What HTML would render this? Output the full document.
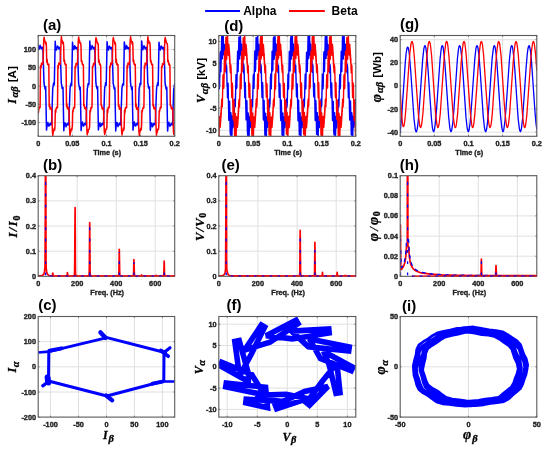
<!DOCTYPE html>
<html><head><meta charset="utf-8"><title>Figure</title>
<style>html,body{margin:0;padding:0;background:#fff;width:550px;height:451px;overflow:hidden}svg{display:block}</style>
</head><body>
<svg width="550" height="451" viewBox="0 0 550 451"><defs>
<clipPath id="cA"><rect x="38.2" y="35.5" width="136.5" height="100.8"/></clipPath>
<clipPath id="cD"><rect x="218.8" y="35.5" width="137.0" height="100.8"/></clipPath>
<clipPath id="cG"><rect x="400.2" y="35.5" width="136.6" height="100.8"/></clipPath>
<clipPath id="cB"><rect x="38.2" y="175.7" width="136.5" height="100.6"/></clipPath>
<clipPath id="cE"><rect x="218.8" y="175.7" width="137.0" height="100.6"/></clipPath>
<clipPath id="cH"><rect x="400.2" y="175.7" width="136.6" height="100.6"/></clipPath>
<clipPath id="cC"><rect x="38.2" y="316.5" width="136.5" height="100.6"/></clipPath>
<clipPath id="cF"><rect x="218.8" y="316.5" width="137.0" height="100.6"/></clipPath>
<clipPath id="cI"><rect x="400.2" y="316.5" width="136.6" height="100.6"/></clipPath>
</defs>
<line x1="72.3" y1="35.5" x2="72.3" y2="136.3" stroke="#e0e0e0" stroke-width="1"/>
<line x1="106.5" y1="35.5" x2="106.5" y2="136.3" stroke="#e0e0e0" stroke-width="1"/>
<line x1="140.6" y1="35.5" x2="140.6" y2="136.3" stroke="#e0e0e0" stroke-width="1"/>
<line x1="38.2" y1="122.6" x2="174.7" y2="122.6" stroke="#e0e0e0" stroke-width="1"/>
<line x1="38.2" y1="104.3" x2="174.7" y2="104.3" stroke="#e0e0e0" stroke-width="1"/>
<line x1="38.2" y1="86.1" x2="174.7" y2="86.1" stroke="#e0e0e0" stroke-width="1"/>
<line x1="38.2" y1="67.8" x2="174.7" y2="67.8" stroke="#e0e0e0" stroke-width="1"/>
<line x1="38.2" y1="49.6" x2="174.7" y2="49.6" stroke="#e0e0e0" stroke-width="1"/>
<line x1="253.1" y1="35.5" x2="253.1" y2="136.3" stroke="#e0e0e0" stroke-width="1"/>
<line x1="287.3" y1="35.5" x2="287.3" y2="136.3" stroke="#e0e0e0" stroke-width="1"/>
<line x1="321.6" y1="35.5" x2="321.6" y2="136.3" stroke="#e0e0e0" stroke-width="1"/>
<line x1="218.8" y1="130.3" x2="355.8" y2="130.3" stroke="#e0e0e0" stroke-width="1"/>
<line x1="218.8" y1="108.1" x2="355.8" y2="108.1" stroke="#e0e0e0" stroke-width="1"/>
<line x1="218.8" y1="85.9" x2="355.8" y2="85.9" stroke="#e0e0e0" stroke-width="1"/>
<line x1="218.8" y1="63.7" x2="355.8" y2="63.7" stroke="#e0e0e0" stroke-width="1"/>
<line x1="218.8" y1="41.5" x2="355.8" y2="41.5" stroke="#e0e0e0" stroke-width="1"/>
<line x1="434.3" y1="35.5" x2="434.3" y2="136.3" stroke="#e0e0e0" stroke-width="1"/>
<line x1="468.5" y1="35.5" x2="468.5" y2="136.3" stroke="#e0e0e0" stroke-width="1"/>
<line x1="502.6" y1="35.5" x2="502.6" y2="136.3" stroke="#e0e0e0" stroke-width="1"/>
<line x1="400.2" y1="132.1" x2="536.8" y2="132.1" stroke="#e0e0e0" stroke-width="1"/>
<line x1="400.2" y1="109.0" x2="536.8" y2="109.0" stroke="#e0e0e0" stroke-width="1"/>
<line x1="400.2" y1="85.9" x2="536.8" y2="85.9" stroke="#e0e0e0" stroke-width="1"/>
<line x1="400.2" y1="62.8" x2="536.8" y2="62.8" stroke="#e0e0e0" stroke-width="1"/>
<line x1="400.2" y1="39.7" x2="536.8" y2="39.7" stroke="#e0e0e0" stroke-width="1"/>
<line x1="77.2" y1="175.7" x2="77.2" y2="276.3" stroke="#e0e0e0" stroke-width="1"/>
<line x1="116.2" y1="175.7" x2="116.2" y2="276.3" stroke="#e0e0e0" stroke-width="1"/>
<line x1="155.2" y1="175.7" x2="155.2" y2="276.3" stroke="#e0e0e0" stroke-width="1"/>
<line x1="38.2" y1="251.2" x2="174.7" y2="251.2" stroke="#e0e0e0" stroke-width="1"/>
<line x1="38.2" y1="226.0" x2="174.7" y2="226.0" stroke="#e0e0e0" stroke-width="1"/>
<line x1="38.2" y1="200.9" x2="174.7" y2="200.9" stroke="#e0e0e0" stroke-width="1"/>
<line x1="257.9" y1="175.7" x2="257.9" y2="276.3" stroke="#e0e0e0" stroke-width="1"/>
<line x1="297.1" y1="175.7" x2="297.1" y2="276.3" stroke="#e0e0e0" stroke-width="1"/>
<line x1="336.2" y1="175.7" x2="336.2" y2="276.3" stroke="#e0e0e0" stroke-width="1"/>
<line x1="218.8" y1="251.2" x2="355.8" y2="251.2" stroke="#e0e0e0" stroke-width="1"/>
<line x1="218.8" y1="226.0" x2="355.8" y2="226.0" stroke="#e0e0e0" stroke-width="1"/>
<line x1="218.8" y1="200.9" x2="355.8" y2="200.9" stroke="#e0e0e0" stroke-width="1"/>
<line x1="439.2" y1="175.7" x2="439.2" y2="276.3" stroke="#e0e0e0" stroke-width="1"/>
<line x1="478.3" y1="175.7" x2="478.3" y2="276.3" stroke="#e0e0e0" stroke-width="1"/>
<line x1="517.3" y1="175.7" x2="517.3" y2="276.3" stroke="#e0e0e0" stroke-width="1"/>
<line x1="400.2" y1="256.2" x2="536.8" y2="256.2" stroke="#e0e0e0" stroke-width="1"/>
<line x1="400.2" y1="236.1" x2="536.8" y2="236.1" stroke="#e0e0e0" stroke-width="1"/>
<line x1="400.2" y1="215.9" x2="536.8" y2="215.9" stroke="#e0e0e0" stroke-width="1"/>
<line x1="400.2" y1="195.8" x2="536.8" y2="195.8" stroke="#e0e0e0" stroke-width="1"/>
<line x1="50.5" y1="316.5" x2="50.5" y2="417.1" stroke="#e0e0e0" stroke-width="1"/>
<line x1="78.5" y1="316.5" x2="78.5" y2="417.1" stroke="#e0e0e0" stroke-width="1"/>
<line x1="106.5" y1="316.5" x2="106.5" y2="417.1" stroke="#e0e0e0" stroke-width="1"/>
<line x1="134.4" y1="316.5" x2="134.4" y2="417.1" stroke="#e0e0e0" stroke-width="1"/>
<line x1="162.4" y1="316.5" x2="162.4" y2="417.1" stroke="#e0e0e0" stroke-width="1"/>
<line x1="38.2" y1="392.0" x2="174.7" y2="392.0" stroke="#e0e0e0" stroke-width="1"/>
<line x1="38.2" y1="366.8" x2="174.7" y2="366.8" stroke="#e0e0e0" stroke-width="1"/>
<line x1="38.2" y1="341.6" x2="174.7" y2="341.6" stroke="#e0e0e0" stroke-width="1"/>
<line x1="227.2" y1="316.5" x2="227.2" y2="417.1" stroke="#e0e0e0" stroke-width="1"/>
<line x1="257.3" y1="316.5" x2="257.3" y2="417.1" stroke="#e0e0e0" stroke-width="1"/>
<line x1="287.3" y1="316.5" x2="287.3" y2="417.1" stroke="#e0e0e0" stroke-width="1"/>
<line x1="317.3" y1="316.5" x2="317.3" y2="417.1" stroke="#e0e0e0" stroke-width="1"/>
<line x1="347.4" y1="316.5" x2="347.4" y2="417.1" stroke="#e0e0e0" stroke-width="1"/>
<line x1="218.8" y1="409.4" x2="355.8" y2="409.4" stroke="#e0e0e0" stroke-width="1"/>
<line x1="218.8" y1="388.1" x2="355.8" y2="388.1" stroke="#e0e0e0" stroke-width="1"/>
<line x1="218.8" y1="366.8" x2="355.8" y2="366.8" stroke="#e0e0e0" stroke-width="1"/>
<line x1="218.8" y1="345.5" x2="355.8" y2="345.5" stroke="#e0e0e0" stroke-width="1"/>
<line x1="218.8" y1="324.2" x2="355.8" y2="324.2" stroke="#e0e0e0" stroke-width="1"/>
<line x1="468.5" y1="316.5" x2="468.5" y2="417.1" stroke="#e0e0e0" stroke-width="1"/>
<line x1="400.2" y1="366.8" x2="536.8" y2="366.8" stroke="#e0e0e0" stroke-width="1"/>
<g clip-path="url(#cA)">
<path d="M38.2,45.3l.7,3.9 .7-.9 .5-3 .4,2 .3-.5 .1,.1 .4,1.8 .4-.9 .4,.9 .4-1.4 .4,1 1.1,34.4 .5,3.9 .4,.7 .2,1.8 .2-.1 .4-2.3 0,.4 .8,43 .7-6 .1-.5 .3,.3 .3-1.4 .7,3.6 .3-.8 .4,.5 .4-1.9 .4,.5 .3-1.1 .4,1.4 .5-.9 .3,.9 1.1-35.8 1-6.2 .4,2 .1,.2 .1-.2 .9-43.5 .5,6.5 .1,.1 .2-.2 .1,.1 .4,2.3 .4-2.6 .3-.3 .4-1.2 .5,1.9 .1,0 .3-.4 .3,1.6 .5-1.4 .4,.9 .3-1.3 .2,.1 1.1,36.4 .4,1 .4,3.6 .3,.2 .2-.4 .2,.2 .2-.8 .8,43.3 .3-4 .8-4 .7,1.3 .4,2.7 .5-2 .3,.5 .1-.1 .4-1.9 .4,1.1 .4-.9 .4,1.4 .3-1 1.2-34.6 .4-3.8 .4-.7 .2-1.5 .2-.2 .1,.2 .3,2.3 .9-43.3 .7,6 .1,.4 .3-.3 .3,1.1 .2-.4 .5-3.3 .3,1.1 .4-.4 .4,1.9 .4-.5 .4,.9 .4-1.4 .3,1 .3-.8 1.1,35.4 .3,2.2 .4,1.1 .4,3.3 .4-2.3 .1-.1 .1,.4 .8,43 .6-6.4 .3,.3 .1-.2 .4-2.2 .4,2.9 .7,1.2 .4-1.9 .2-.1 .3,.5 .3-1.5 .4,1.4 .5-.9 .3,1.2 .1,0 1.2-36.6 .4-1.1 .4-3.5 .2-.2 .2,.7 .3-.2 .1,.4 .1-.5 .8-42.8 .3,4.7 .8,3.6 .2-.2 .2-1 .3-.3 .4-2.4 .5,2 .3-.5 .1,.1 .4,1.8 .4-1.2 .4,.9 .4-1.4 .3,1.2 1.1,34.5 .6,4.1 .3,.6 .2,1.1 .2,.2 .1-.2 .3-2 .8,43.3 .9-6.6 .3,.2 .2-.7 .2,.2 .6,3.5 .3-1.5 .3,.5 .1-.1 .4-1.8 .4,.6 .4-.9 .4,1.4 .3-.9 .2,.4 .1-.3 1.1-34.5 .3-2.8 .4-1.2 .3-2.9 .5,2.4 .1,.1 .9-43.4 .6,6.3 0,.1 .3-.3 .1,.1 .4,2.2 .4-3.1 .3-.5 .2,.1 .2-.5 .5,1.9 .4-.5 .3,1.4 .4-1.3 .5,.9 .4-1.3 1.1,36.5 .5,1.6 .4,3.4 .2,.2 .2-1.1 .3,.2 .1-.2 .8,43.2 .5-5.3 .1-.7 .2-.2 .4-2.2 .2,.1 .2,1.5 .4,.4 .3,2 .5-2 .4,.4 .4-1.9 .4,1.4 .3-.9 .5,1.3 .2-.8 1.2-35.2 .6-4 .5-1.3 .3-.1 .3,1.5 .7-43.1 1,7 .3-.2 .2,.3 .2-.1 .5-3.4 .4,1.6 .3-.5 .1,.1 .4,1.9 .4-.8 .4,.9 .4-1.3 .3,.9 .2-.2 1.1,34.6 .4,3.2 .4,1 .3,2.6 .6-2.6 .8,43.4 .6-6 .1-.4 .3,.3 .1-.1 .3-2 .6,3.6 .2,0 .2-.2 .3,.5 .4-1.9 .3,.5 .5-1.3 .4,1.4 .4-1 .4,1.1 1-36.1 .2-1.2 .4-1.1 .4-3.2 .1-.1 .3,1.4 .3-.1 .9-43.4 .5,5.9 .1,.6 .1-.2 .1,.2 .4,2.2 .4-1.8 .3-.4 .4-1.8 .5,1.9 .3-.4 .1,.1 .4,1.7 .4-1.4 .4,1 .4-1.4 .2,.6 1.1,35.7 .3,.7 .4,3.6 .4,.6 .3,.2 .3-1.5 .8,43.2 .3-2.7 .7-4.5 .3,.3 .1-.2 .3,.4 .5,3.2 .4-1.8 .4,.4 .4-1.9 .4,.9 .4-.9 .4,1.3 .3-.9 .1,0 1.2-34.4 .4-3.5 .4-.8 .3-2.4 .6,2.5 .8-43.1 .6,5.8 .1,.4 .4-.2 .3,1.7 .6-3.6 .2,0 .1,.5 .3-.6 .5,1.9 .3-.4 .4,1.2 .5-1.4 .4,.9 .3-1.1 1.1,36.1 .2,1.5 .4,1 .4,3.3 .4-1.7 .3,.2 0,.5 .8,42.9 .6-6.5 0-.1 .2,.2 .1-.1 .4-2.3 .4,2.2 .3,.4 .4,1.5 .5-1.9 .3,.4 .1-.1 .3-1.6 .5,1.3 .4-.9 .3,1.4 .2-.4 1.1-35.9 .4-1 .4-3.3 .2-.4" fill="none" stroke="#0000ff" stroke-width="1.5" stroke-linejoin="round" stroke-linecap="round" />
<path d="M38.2,110.8l.2,2.1 .6-5.5 .3,.9 .5-1.4 .3,.7 .4-41.6 .1-.2 .1,.4 .3,1.6 .6-4.8 .5,1.4 .4-.9 .3,.6 .2-.1 .7-23 .4-3.8 .6,3.8 .2,.4 .2-.1 .1,.2 .5,2.7 .3-1.9 .2,1.2 .2,2.5 .3,16.2 .4-2.9 .5,5.2 .3-.7 .5,1.4 .4-.9 .4,42.4 .4-2.7 .5,5.2 .5-1.4 .4,.9 .4-.8 .2,.2 .8,23 .4,4.3 .5-3.9 .1-.4 .3,.1 .1-.2 .5-2.8 .4,1.8 .3-4.2 .3-15.5 .4,2.2 .5-4.5 .3,.4 .4-1.4 .4,.9 .2-.2 .4-42.2 .3,2.9 .6-5.5 .4,1.4 .4-.9 .4,1.1 .2-.8 .9-22.8 .3-4.3 .4,3.7 .2,.4 .2,0 .1,.2 .5,2.7 .2,.1 .3-1.4 .4,4.4 .3,14.9 .4-1.6 .5,3.8 .1-.1 .1,.1 .4,1.3 .4-.9 .2,.4 .4,41.8 .4-2.6 .5,5.2 .3-1.1 .5,.9 .4-1.4 .3,1.5 .8,22.8 .3,3.7 .4-3.2 .1-.4 .3,0 .1-.2 .4-2.7 .3-.1 .3,.9 .5-4.3 .3-14.6 .3,1 .5-3.1 .4-1.4 .2-.1 .4,.8 .2-.9 .4-40.5 .1-.4 .4,1.8 .4-4.5 .3,.7 .4-.9 .5,1.4 .3-1.8 .8-22.3 .4-3.6 .3,2.9 .4,.3 .5,2.8 .4,.1 .1-.3 .2,.1 .4,3 .3,15.5 .4-1 .8,4.4 .2,.1 .3-.8 .4,1.3 .4,40.4 .4-1.2 .5,3.7 .2-.2 .4,.9 .5-1.5 .4,1.9 .8,22.7 .3,2.7 .3-2.2 .4-.3 .4-2.6 .1-.3 .3,.1 .2-.5 .2,0 .4-2.3 .4-16.3 .4,1.6 .6-4.6 .2-.1 .4,.8 .4-1.4 .5-40.1 .3,.7 .6-3.3 .3-.8 .6,1.4 .6-1.8 .8-23 .3-2.1 .3,1.5 .3,.5 .4,2.5 .4,.2 .2,1.1 .3-.3 .4,2.1 .3,16.9 .4-2.4 .6,4.9 .1,.1 .4-.8 .6,1.5 .4,40.1 .4-.7 .5,3.3 .3,.9 .5-1.5 .5,1.2 .2-.1 .8,22.9 .4,2.8 .4-1.6 .4-2.5 .4-.3 .4-1.8 .2,.9 .4-2.1 .4-17.3 .4,3 .5-5.2 .1-.1 .4,.9 .4-1.4 .2,.3 .5-41 .3,1.2 .8-4.4 .5,1.5 .4-.9 .2,0 .1,.2 .8-23 .4-3.2 .8,3.9 .1,.2 .2,0 .1,.2 .4,2.3 .3-1.6 .3,1.7 .4,18.2 .4-3.2 .5,5.4 .4-.9 .5,1.5 .3-.7 .4,41.4 0,.3 .2-.3 .2-1.6 .6,4.8 .5-1.4 .4,.9 .5-.6 .8,23 .4,3.8 .6-3.7 .1-.4 .3,0 .1-.1 .4-2.8 .4,2 .1-1.2 .2-2.5 .4-16.2 .3,2.9 .5-5.2 .4,.7 .5-1.5 .3,.9 .5-42.3 .4,2.6 .5-5.2 .5,1.4 .4-.9 .3,.9 .2-.3 .8-22.9 .4-4.3 .5,3.8 .2,.4 .2,0 .1,.2 .5,2.7 .1,.1 .3-1.9 .1,.5 .3,3.8 .3,15.4 .4-2.1 .5,4.5 .2-.5 .5,1.5 .3-.9 .2,.1 .4,42.3 .4-2.9 .5,5.5 .4-1.4 .5,.9 .4-1.2 .2,.8 .8,22.9 .4,4.2 .4-3.6 .1-.4 .3,0 .1-.2 .5-2.8 .1-.1 .4,1.5 .4-4.3 .3-15 .3,1.6 .6-3.8 .1,.1 0-.1 .4-1.3 .4,.9 .2-.4 .5-41.9 .3,2.6 .5-5.2 .4,1.1 .5-.8 .3,1.3 .3-1.4 .9-22.8 .3-3.8 .3,3.2 .2,.4 .2,0 .1,.2 .5,2.8 .3,0 .3-.9 .4,4.2 .3,14.8 .4-1.1 .5,3.3 .4,1.3 .2,.1 .3-.9 .3,.9 .4,41 .4-1.8 .5,4.5 .3-.7 .4,.9 .5-1.4 .3,1.7 .8,22.3 .3,3.7 .3-2.9 .5-.3 .5-2.8 .4-.2 .1,.4 .2-.1 .3-3 .4-15.6 .3,1.1 .8-4.5 .2-.1 .4,.9 .3-1.3 .4-40.2 .4,1 .5-3.8 .2,.3 .4-.9 .5,1.4 .5-1.8 .7-22.7 .4-2.7 .3,2.2 .3,.2 .5,2.7 .1,.2 .2,0 .2,.5 .3,0 .4,2.3 .3,16.2 .4-1.5 .7,4.6 .1,.1 .4-.9 .5,1.5 .4,40.1 .4-.7 .5,3.2 .4,.9 .2-.1 .4-1.3 .5,1.5 .8,23.2 .4,2.2 .2-1.5 .3-.6 .3-1.8" fill="none" stroke="#ff0000" stroke-width="1.5" stroke-linejoin="round" stroke-linecap="round" />
</g>
<g clip-path="url(#cD)">
<path d="M218.8,74.3l.1,6.9 .1-5.6 .1,9.3 .1-4.8 .1,8.7 .2-7 .1,4.9 .1-11.3 .1,2.1 .3-24 .1,4.8 .2-6.8 .5,20.2 .8-35.3 .3,13.8 .1-2.9 .1,10.4 .1-5.5 .1,6.5 .4-17.2 .1,3.1 .1-9.8 .1,6.1 .1-6.2 .6,20.2 .1-6.3 .1,6.1 .1-7.7 .1,5.8 .1-8.2 .1,6.6 .2-6.7 .3,10.6 .1-5.4 .1,8.6 .1-5.6 .1,8.2 .1-5.2 .1,8.9 .2-5 .1,9.2 .1-5 .1,8 .1-6.1 .1,7.2 .1-7.5 .1,6.6 .1-6.9 .2,7.4 0-5.3 .4,19.5 .1-2.9 .3,14 .1-8.2 .2,4.8 .1-9.6 .1,5.3 .1-6.9 .7,37.1 .2-6.8 .1,5.1 .1-10.6 .1,3 .1-9.3 .1,5.4 .1-6 .6,31.6 .1-4.6 .1,7 .5-22.4 .2,7.2 .1-4.9 .5,22.9 .1-7.7 .2,4.9 .1-10.1 .1,4.2 .1-10 .1,5 .1-7.9 .1,7.4 .1-5.9 .1,7.9 .1-5.7 .2,7.6 .1-7.2 .1,6.1 .1-8.1 .1,5.2 .1-8.2 .1,5.5 .1-8.6 .1,5.5 .2-8.6 0,5.3 .2-8.9 .1,4.9 .1-9.1 .1,5.6 .1-7.9 .1,6.7 .1-6.5 .1,7.5 .2-6.8 .1,6.5 .7-31.8 .1,6.2 .1-6.1 .2,9.1 .1-4.5 .1,9.1 .1-6.5 .1,5.7 .8-36.5 .5,20.4 .8-34.5 .1,6.4 .1-5 .1,10.7 .2-2.9 0,9.8 .2-3.9 .1,6.9 .3-16.5 .1,3.3 .1-9.8 .1,5 .1-6.9 .6,20 .1-5.8 .1,6.9 .1-8 .2,5.8 .1-8.2 .1,6.1 .1-6.8 .1,7.7 .1-5.8 .1,8.6 .1-5.3 .1,8.1 .1-5.3 .2,8.5 .1-5.5 .1,8.9 .1-4.9 .1,9 .1-5.3 .1,8.7 .1-6.1 .1,7.4 .2-7.3 0,6.4 .2-7.2 .1,7.4 .1-5.6 .8,31.2 .3-12.2 .1,5.1 .1-8 .8,37.2 .1-6.2 .1,5.5 .1-9.4 .1,3 .1-10.6 .2,5.1 .1-6.7 .5,31.2 .1-4 .1,7.5 .2-8.8 0,4 .4-17.5 .1,6.6 .1-5.2 .6,23.3 .1-7.1 .1,5 .1-9.2 .1,3.7 .1-10.3 .1,4.8 .1-8.1 .1,6.8 .1-6.1 .2,8.3 .1-5.8 .1,7.8 .1-6.9 .1,6.4 .1-8 .1,5.5 .1-8.7 .2,5.4 .1-8.5 .1,5.4 .1-8.2 .1,5.3 .1-9.1 .1,4.9 .1-9 .1,5.2 .1-7.8 .2,6.6 .1-6.9 .1,7.6 .1-6.7 .1,6.6 .8-31.2 .1,5.7 .1-6.7 .1,8.9 .1-4.5 .1,9.2 .1-5.8 .1,6.2 .8-37.4 .6,20.2 .1-6.8 .1,4.7 .5-31.7 .2,6 .1-5.6 .5,21.5 .8-25.3 .3,14.5 .1-4.2 .1,9.5 .2-5.6 .1,7.2 .1-7.7 .1,5.5 .1-7.8 .1,6.1 .1-7.4 .1,7.6 .1-5.9 .2,8.4 .1-5.6 .1,8.7 .1-5.6 .1,8.6 .1-5.4 .1,8.6 .1-5.2 .1,9.1 .1-5 .2,8.8 .1-5.8 .1,7.4 .1-7 .1,6.5 .1-7.5 .1,7.2 .1-5.9 .8,31.5 .1-6.9 .1,4.6 .1-8.8 .1,4.7 .2-8.4 .1,7.5 .1-4.7 .5,33.6 .1-5.3 .1,6.2 .2-9.6 .1,3.3 .1-10.8 .1,4.6 .1-7.2 .8,34.9 .5-21.2 .1,5.3 .1-6.1 .6,23.9 .1-6.4 .1,6 .1-9.7 .1,3.8 .2-10.3 .1,4.3 .1-8.1 .1,6.6 .1-6.5 .1,8.3 .1-5.7 .1,7.7 .1-6.3 .1,6.4 .2-8 .1,5.6 .1-8.7 .1,5.6 .1-8.4 .1,5.5 .1-8.6 .1,5.3 .1-9 .2,4.8 .1-8.5 .1,5.1 .1-8.4 .1,6.4 .1-7 .1,7.4 .1-6.4 .1,6.9 .1-7.9 .2,4.9 .5-27.6 .1,5.1 .1-7.2 .1,8.5 .1-4.9 .2,9.3 .1-5.3 .1,7 .8-37.7 .3,13.6 .1-3.7 .1,9.9 .1-6.3 .1,5.5 .6-32 .1,5.3 .1-6.1 .6,22 .7-25.3 .1,7.5 .1-4.5 .2,10.2 .1-3.7 .1,9.8 .1-5.3 .1,7.3 .1-7.2 .1,5.9 .1-8.4 .1,6 .2-7.4 .1,7.2 .1-5.7 .1,7.9 .1-5.4 .1,8.7 .1-5.5 .1,8.4 .1-5.6 .1,8.6 .2-5.1 .3,13 .1-5.7 .1,7.5 .1-6.7 .1,6.7 .1-7.6 .2,6.9 .1-5.9 .7,31.3 .1-6.5 .2,5.9 .1-9.4 .1,4.5 .1-8.3 .1,6.4 .1-5.2 .6,33.6 .1-4.8 .1,7.1 .5-20.4 .8,35.2 .1-7.4 .1,4.5 .1-10.9 .2,2.6 .1-9.5 .1,5.1 .1-6.8 .3,17.4 .1-3.6 .1,9.9 .1-5.8 .2,6.4 .5-20.2 .1,6.4 .1-6.7 .1,8 .1-5.8 .2,8.1 .1-6.4 .1,6.9 .1-7.9 .1,5.6 .1-8.2 .1,5.3 .1-8.6 .1,5.6 .2-8.6 .1,5.3 .1-8.7 .1,5.2 .1-9.2 .1,5.1 .1-8.5 .1,6 .1-6.9 .1,7.2 .2-6.4 .1,7.3 .1-7.8 .1,5.1 .8-30.2 .1,7.6 .1-4.8 .1,9.6 .1-5.1 .1,7.5 .8-37.5 .1,6.5 .1-5.2 .1,10.5 .1-3.2 .1,10.2 .2-5.6 .1,6.2 .5-32 .1,4.8 .1-7.1 .1,9.1 .2-3.3 .3,16.6 .1-6.8 .1,5.1 .6-23.2 .1,7.3 .1-5.2 .1,10.2 .1-3.7 .1,9.9 .1-4.7 .1,7.5 .1-7.2 .2,6.1 .1-8.3 .1,5.8 .1-7.5 .1,7 .1-6.4 .1,8.4 .1-5.5 .4,11.4 .1-5.5 .1,8.7 .1-5.2 .1,8.4 .1-4.5 .1,9 .1-5.5 .1,8.1 .2-6.9 .1,6.7 .1-7.2 .1,6.4 .1-6.5 .8,31.6 .1-6.1 .1,6.3 .1-9.1 .1,4.8 .1-9.1 .1,6.2 .1-5.9 .8,36.8 .6-20.5 .7,34.8 .2-6.7 .1,4.7 .1-9.7 .1,2.8 .1-10.9 .1,4.8 .1-7.3 .6,23.4 .1-5.4 .1,6.8 .3-14.7 .1,4 .1-9.3 .2,5.8 .1-6.6 .1,7.6 .1-5.8 .1,8.3 .1-6.3 .1,7 .1-7.3 .2,5.1 0-8 .2,5.5 .1-8.7 .1,5.5 .1-8.1 .1,5.3 .1-8.8 .1,5 .1-9.2 .1,5 .2-8.5 .1,6 .1-7.4 .1,7.3 .1-6.6 .1,7.1 .1-7 .1,5.7 .8-31.3 .1,7.5 .1-5.2 .1,9.6 .1-4.7 .2,7.6 .7-36.5 .1,5.7 .1-5.9 .2,10.1 .1-3.6 .1,10.2 .1-4.5 .1,7 .8-35 .5,22.1 .1-6.3 .1,5.7 .6-23.6 .1,6.8 .1-5.4 .1,9.8 .1-4.2 .1,10.2 .2-4.6 .1,8.4 .1-6.9 .1,6.1 .1-7.8 .1,5.6 .1-8 .1,6.9 .1-6.5 .4,11 .1-5.4 .1,8.6 .1-5.6 .1,8.6 .1-5 .1,8.4 .1-4.8 .2,9.1 .1-5.3 .1,8.1 .1-6.4 .1,6.4 .1-7.2 .1,6.7 .1-6.9 .8,31.3 .1-5.5 .1,6.3 .1-8.2 .1,4.5 .2-9.4 .1,5.8 .1-6.3 .7,37.1 .2-7.5 .1,4.2 .1-10.9 .1,3.4 .1-9.3 .1,6.6 .1-4 .6,31.2 .1-5.8 .1,5.9 .5-21.8 .8,25.2 .4-14.2 .1,3.8 .1-9.3 .1,5.6 .1-7.4 .1,7.7 .1-5.8 .1,8.3 .2-6 0,7.1 .2-7.4 .1,6.1 .1-8.6 .1,5.4 .1-8.5 .1,5.6 .1-8.5 .1,5.6 .1-8.9 .2,5.1 .3-12.7 .1,5.8 .1-7.7 .1,7.1 .1-6.4 .1,7.2 .1-6.9 .2,6.1 .7-31.8 .1,7.1 .2-5.4 .1,9.3 .1-4.9 .1,8.6 .1-7.3 .1,4.6 .6-33.2 .1,5.2 .1-6.5 .1,8.9 .1-3.1 .3,14.1 .8-35.2 .6,21.6 .1-5.7 .1,6.1 .5-23.8 .2,6.3 .1-5.6 .1,9.1 .1-4.1 .3,14.7 .1-6.4 .1,6.4 .1-8.2 .1,5.8 .2-8.1 .1,6.6 .1-6.5 .3,10.8 .1-5.5 .1,8.6 .2-5.4 0,8.1 .2-5.3 .1,9 .1-5 .1,9.2 .1-5.1 .1,7.9 .1-6.1 .1,7.1 .1-7.6 .2,6.6 .1-6.9 .1,7.4 .1-4.8 .3,19.8 .1-3 .1,10.5 .1-4.6 .2,7.4 .1-8.3 .1,4.7 .1-8.8 .1,4.5 .1-6.9 .8,37.6 .1-7.1 .1,4.8 .1-10.7 .1,3 .1-9.2 .1,5.8 .2-5.7 .5,31.8 .1-5 .1,6.7 .6-22.3 .8,25.3 .1-7.9 .1,4.7 .1-9.4 .1,3.5 .1-9.9 .1,5.2 .1-7.8 .2,7.4 .1-5.7 .1,7.9 .1-5.8 .1,7.6 .1-7.3 .1,6 .1-8.2 .1,5.1 .1-8.1 .1,5.5 .2-8.6 .1,5.5 .1-8.6 .1,5.3 .1-9 .1,4.9 .1-9 .1,5.6 .1-7.4 .1,6.4 .2-6.5 .1,7.6 .1-7 .1,6.4 .8-31.7 .1,6.3 .1-5.9 .1,9.2 .1-4.5 .1,9 .1-6.8 .1,5.5 .8-36.2 .6,20.4 .7-34.8 .1,6.9 .2-4.8 .1,10.8 .1-2.8 .1,9.6 .1-4.2 .1,6.7 .4-17 0,3.5 .2-9.8 .1,5.3 .1-6.6 .5,20 .1-6 .2,6.9 .1-8.2 .1,5.8 .1-8.1 .1,6.2 .1-6.7 .1,7.8 .1-5.8 .2,8.6 .1-5.3 .1,8.1 .1-5.4 .1,8.6 .1-5.5 .1,9 .1-4.9 .1,8.9 .1-5.2 .1,8.6 .2-6.2 .1,7.3 .1-7.3 .1,6.4 .1-7.2 .1,7.5 .1-5.4 .8,30.9 .1-7.3 .1,4.5 .3-12.3 .8,37.4 .1-6.5 .2,5.2 .1-10.2 .1,3.7 .1-10.5 .1,5.4 .1-6.3 .8,34.2 .5-22.3 .1,6.9 .2-4.9 .5,22.9 .1-7.2 .1,4.7 .1-9.2 .1,3.7 .2-10.2 .1,4.9 .1-7.7 .1,6.7 .1-6.1 .1,8.4 .1-5.9 .1,7.3 .1-6.5 .1,6.3 .1-8.1 .2,5.5 .1-8.7 .1,5.4 .1-8.4 .1,5.6 .1-8.5 .1,5.2 .1-9.1 .2,4.9 .1-9 .1,5.6 .1-7.9 .1,6.6 .1-6.9" fill="none" stroke="#0000ff" stroke-width="1.4" stroke-linejoin="round" stroke-linecap="round" />
<path d="M218.8,134.3l.1-3.6 .1,5.3 .1-9.9 .1,3.7 .3-13.2 .1,6.8 .1-6.2 .2,8.4 .1-5.8 .1,7.4 .1-6.5 .1,6.3 .1-8.2 .1,5.6 .1-8.7 .1,5.4 .1-8.1 .2,4.8 .1-8.1 .1,5.3 .1-9.1 .1,4.9 .3-11.5 .1,6.7 .2-6.9 .1,7.6 .1-6.6 .1,6.6 .7-31.2 .2,5.6 .1-6.6 .1,9 .1-4.8 .1,9 .1-5.7 .1,6.3 .8-37.3 .5,20.4 .2-7.1 .1,4.5 .5-31.6 .1,6.3 .2-5.5 0,9.5 .2-2.6 .3,14.4 .5-23 .2,5 .1-7.2 .5,19.9 .1-5.8 .2,7.1 .1-7.6 .1,5.8 .1-8.3 .1,6.2 .1-7.2 .1,7.5 .1-5.7 .1,8.1 .1-5.4 .2,8.7 .1-5.5 .1,8.5 .1-5.3 .1,8.3 .1-5 .1,9.2 .1-5.1 .1,8.8 .1-5.8 .1,7.3 .2-7.1 .1,6.6 .1-7.5 .1,7.2 .1-5.6 .8,31.1 .1-7 .1,5.4 .1-9.6 .1,4.7 .1-7.9 .2,7.3 0-4.7 .6,33.6 .1-5.6 .1,6.3 .1-9.8 .2,3.3 .3-13.2 .7,35.1 .6-21.6 .1,5.7 .1-6.1 .6,23.8 .1-6.4 .1,5.8 .1-9.7 .1,3.7 .1-10.1 .1,4.8 .1-8.6 .2,6.7 .1-6.4 .1,8.2 .1-5.8 .1,7.8 .1-6.6 .1,6.7 .1-8.1 .2,5.5 .1-8.5 .1,5.5 .1-8.5 .1,5.6 .1-8.7 .1,5.4 .1-8.9 .1,5.1 .1-9.1 .2,5.3 .1-8.4 .1,6.5 .1-6.9 .1,7.2 .1-6.4 .1,7.1 .4-14 0,3.1 .4-20.1 .1,5.3 .1-7 .1,8 .1-4.4 .1,9.5 .2-5.6 .1,6.9 .7-37.6 .4,13.4 .1-3.3 .1,9.8 .1-6.4 .1,5.4 .6-32.1 .1,5.4 .1-5.7 .5,21.6 .8-25.1 .3,13.4 .2-3.8 .1,9.7 .1-5.2 .1,7.2 .1-7.4 .1,5.9 .1-8.4 .1,6 .1-7.2 .1,7 .2-5.3 .1,7.8 .1-5.5 .1,8.7 .1-5.4 .1,8 .1-5.4 .1,8.8 .1-5.2 .4,12.7 .1-5.5 .1,7.8 .1-7 .1,6.6 .1-7.2 .1,6.5 .1-6.1 .8,31.7 .1-6.7 .1,5.8 .2-9.4 .1,4.4 .1-8.2 .1,6.7 .1-5.1 .6,33.5 .1-4.9 .1,7 .5-20.3 .8,35.3 .3-14.1 .1,3.4 .1-10.4 .2,5.4 .1-6.7 .3,16.9 .1-3 .1,9.9 .1-6 .1,6.2 .6-20 .1,6.3 .1-6.4 .1,7.7 .1-5.6 .1,8.1 .2-6.5 .1,6.8 .1-7.8 .1,5.3 .1-8.1 .1,5.4 .1-8.6 .1,5.4 .1-8.4 .2,5.1 .1-8.3 .1,4.9 .1-9.2 .1,5.2 .1-8.5 .1,6.2 .1-7 .1,7.3 .1-6.5 .2,7.2 .1-7.7 .1,5.4 .7-30.6 .2,7.9 .1-4.8 .1,9.6 .1-5.1 .1,7.1 .8-37.1 .1,6.5 .1-5.2 .1,10.6 .1-3.2 .1,10 .1-5.7 .1,6.1 .6-32 .1,4.9 .1-7.1 .6,22.3 .1-6.9 .1,5.1 .5-23.1 .2,7.5 .1-5.1 .1,10.2 .1-3.5 .1,9.2 .1-4.8 .1,8 .1-7.4 .1,6.1 .1-7.9 .1,5.5 .2-7.3 .1,6.8 .1-6.3 .1,8.4 .1-5.4 .1,8.4 .1-5.6 .1,8.6 .2-5.6 .1,8.7 .1-5.1 .1,8.5 .1-4.7 .1,9 .1-5.5 .1,8 .1-6.6 .1,6.4 .2-7.4 .1,6.7 .1-6.6 .8,31.8 .1-6.2 .1,5.9 .1-8.8 .1,4.7 .1-9.2 .1,6.4 .1-5.6 .8,36.3 .6-20.3 .7,34.8 .1-6.7 .1,5.2 .2-10.5 .1,2.8 .3-13.1 .6,23.5 .1-5.3 .1,6.7 .5-20.2 .1,6 .2-6.5 .1,7.5 .1-5.8 .1,8.3 .1-6.3 .1,6.9 .1-7.5 .1,5.8 .1-8.6 .1,5.4 .2-8.6 .1,5.3 .1-8 .1,5.4 .1-8.9 .1,5 .1-9.1 .1,4.8 .1-8.1 .1,5.9 .2-7.4 .1,7.3 .1-6.5 .1,7.1 .1-7 .1,5.6 .8-31.4 .1,7.7 .1-5.1 .1,9.5 .1-4.6 .1,7.5 .8-36.9 .1,6 .1-5.7 .1,10.1 .1-3.7 .2,10.5 .1-4.9 .1,6.9 .5-31 .1,3.9 .2-7.8 .1,8.8 .1-4.1 .3,17.6 .1-6.5 .1,5.5 .6-23.5 .1,7 .1-5.3 .1,9.7 .1-4.1 .1,10.2 .1-4.7 .2,8.3 0-6.7 .2,6 .1-8.1 .1,5.7 .1-7.9 .1,6.9 .1-6.4 .4,11.1 .1-5.5 .1,8.6 .1-5.5 .1,8.5 .1-5.4 .1,8.9 .1-4.9 .1,9.1 .2-5.3 .1,7.8 .1-6.3 .1,6.8 .1-7.5 .1,6.6 .1-6.7 .8,31.3 .1-5.7 .1,6.7 .1-8.7 .1,4.5 .1-9.3 .2,5.8 .1-6.3 .7,37.3 .6-20.2 .1,6.7 .1-4.8 .6,31.7 .1-5.7 .1,5.8 .5-21.7 .8,25.3 .3-14.4 .2,3.6 .1-8.8 .1,5.5 .1-7.4 .1,7.8 .1-5.7 .1,8.1 .1-6.1 .1,7.3 .1-7.6 .2,6.1 .1-8.5 .1,5.2 .1-8.2 .1,5.5 .1-8.6 .1,5.5 .1-8.8 .1,4.9 .1-8.5 .2,4.8 .1-8.8 .1,5.8 .1-7.2 .1,6.7 .1-6.2 .1,7.2 .1-7.2 .1,6 .8-31.6 .1,7.1 .1-5.1 .1,8.8 .2-4.6 .1,8.6 .1-7.5 .1,4.9 .5-33.6 .2,5.3 .1-6.1 .1,9 .1-3.3 .1,10.9 .1-4.5 .1,7.4 .8-34.9 .3,14.5 .1-3 .1,10.1 .2-5.8 .1,6.1 .5-23.9 .1,6.2 .2-5.2 0,8.8 .2-3.8 .1,10.4 .1-4.4 .1,8.2 .1-6.3 .1,6.5 .1-8.3 .1,5.8 .1-8 .2,6.5 .1-6.5 .1,7.9 .1-5.6 .1,8.7 .1-5.4 .1,8.4 .1-5.2 .1,8.1 .1-5.4 .2,9.1 .1-5 .1,9 .1-5.3 .1,8.3 .1-6.3 .1,7 .1-7.5 .1,6.4 .1-6.8 .2,7.7 .1-4.9 .3,20 .1-3.1 .1,10.6 .1-4.8 .1,7.3 .2-8.5 .1,4.6 .1-8.9 .1,5.1 .1-7.1 .8,37.7 .1-7.3 .1,4.6 .1-10.7 .1,3.8 .1-9.9 .1,6.1 .1-5.6 .6,31.9 .1-5.2 .1,6.4 .6-22.2 .7,25.4 .1-7.4 .2,4.4 .1-10 .1,3.7 .1-9.9 .1,5.2 .1-7.5 .1,7.1 .1-5.7 .1,8.3 .2-6 .1,7.6 .1-7.3 .1,5.9 .1-7.9 .1,5.3 .1-8.7 .1,5.6 .1-8.6 .2,5.4 .1-8.2 .1,5 .1-9.1 .1,5 .1-9 .1,5.6 .1-7.5 .1,6.7 .1-6.6 .2,7.6 .1-6.9 .1,6.1 .8-31.5 .1,6.4 .1-5.9 .1,9.3 .1-4.5 .1,8.3 .1-6.2 .1,5.3 .6-32.7 .1,3.9 .1-7.3 .6,20.3 .7-34.8 .1,7.1 .1-4.7 .2,10.9 .1-2.7 .1,9.6 .1-4.8 .1,6.9 .3-17.2 .1,3.5 .1-9.9 .2,5.6 .1-6.5 .5,20.1 .1-6.2 .1,6.8 .2-8.1 .1,5.6 .1-7.8 .1,6.3 .1-6.9 .1,7.9 .1-5.7 .1,8.5 .2-5.1 0,8 .2-5.5 .1,8.6 .1-5.4 .1,8.9 .1-5.2 .1,9 .1-5.1 .1,8.7 .1-6.2 .2,7.1 .1-7.1 .1,6.3 .1-7.2 .1,7.6 .1-5.3 .8,30.6 .1-7.5 .1,4.7 .1-9.5 .1,5 .1-7.6 .8,37.4 .1-6.5 .1,4.7 .1-9.5 .1,3.1 .2-10.4 .1,5.6 .1-6.1 .7,34.1 .6-22.4 .1,6.9 .1-5.3 .6,23.3 .1-7.1 .1,5.1 .1-10 .1,3.7 .1-10.1 .2,4.9 0-7.7 .2,7 .1-6.1 .1,8.4 .1-5.9 .1,7.4 .1-6.6 .1,6.2 .1-8.3 .1,5.6 .4-11.7 .1,5.7 .1-8.7 .1,5.3 .1-9.2 .1,4.9 .4-11.3 .1,6.8 .1-6.8 .1,7.5 .1-6.6 .1,6.5 .1-8.4 .1,4.2 .6-27.2 .1,5.9 .1-6.4 .1,9.1 .1-4.8 .1,9 .1-6 .2,6 .7-37 .6,20.5 .1-7.4 .1,4.2 .6-31.3 .1,6.5 .1-5.1 .1,9.6 .1-2.6 .1,10.9 .1-4.6 .1,7.5 .6-23.3 .1,5.3 .1-7 .6,20 .1-5.9 .1,6.9 .1-7.6 .1,5.8 .1-8.3 .1,6.3 .1-7.2 .2,7.6 .1-5.6 .1,8.1 .1-5.4 .1,8.7 .1-5.5 .1,8.5 .1-5.2 .1,8.2 .1-5 .1,9.2 .2-5 .1,8.7 .1-6 .1,7.3 .1-7.1 .1,6.5 .1-7.4 .1,7.3 .2-5.4 .7,30.9 .1-7.2 .1,5.2 .1-9.6 .2,4.8 .1-8 .8,36.8 0-5.8 .2,6 .1-10.1 .1,3.2 .1-9.7 .1,4 .1-6.8 .8,35 .6-22.1 0,6.2 .2-5.8 .5,23.7 .1-6.7 .1,5.7 .2-9.9 .1,3.6 .1-9.9 .1,4.8 .1-8.4 .1,6.8 .1-6.3 .1,8.3 .1-5.9 .1,7.9 .1-6.8 .2,6.6 .1-8.2 .1,5.5 .1-8.2 .1,5.3 .1-8.6 .1,5.6 .1-8.7 .1,5.4 .2-9 .1,5.1 .1-9 .1,5.3 .1-8.3 .1,6.5 .1-6.7 .1,7.2 .1-6.5 .1,7 .2-8.3 .1,4.6 .5-27.5 .1,5.5 .2-6.7 0,8.1 .2-4.4 .1,9.5 .1-5.8 .1,6.6 .8-37.4 .5,20.1 .1-6.7 .2,4.6 .5-31.6 .1,5.8 .1-5.3 .6,21.2 .7-25.1 .4,13.8 .1-3.8 .1,9.6 .1-5.6 .1,7 .1-7.3 .1,5.9 .2-8.3 .1,6 .1-7.1 .1,7.2 .1-6.1 .1,8.6 .1-5.5 .1,8.7 .1-5.4 .1,8.1 .1-5.5 .2,8.8 .1-5.1 .3,12.7 .1-5.6 .1,7.7 .1-7.2 .2,6.6 .1-7.4 .1,6.8 .1-6 .7,31.8 .2-6.9 .1,5.5 .1-9.4 .1,4.4 .1-8.1 .1,7.1 .1-4.8 .6,33.2 .1-4.9 .1,6.6 .5-20.1 .8,35.3 .3-8.8" fill="none" stroke="#ff0000" stroke-width="1.4" stroke-linejoin="round" stroke-linecap="round" />
</g>
<g clip-path="url(#cG)">
<path d="M400.2,132.8l1.5-16.8 3.5-52.4 .9-10.1 .9-5.4 .6-1 .3,.1 .3,.6 .6,2.7 .6,4.5 1.2,14.2 3.4,49.6 1.2,9.8 .5,2.5 .6,.8 .4-.7 .5-2 1-7.4 1.1-13.8 3.4-48.9 1.1-10 .6-2.6 .5-.9 .5,.6 .5,1.9 1,7.7 1.1,13.2 3.4,48.9 1,9.8 .6,2.8 .5,1 .2,0 .3-.3 .5-1.8 1-7.4 1.1-13.6 3.5-49.4 1.1-10 .5-2.6 .6-.8 .4,.5 .5,1.9 1,7.8 1.1,13.3 3.4,48.3 1.1,10 .5,2.9 .5,1.2 .2,.1 .3-.3 .5-1.7 1.1-7.6 1.1-13.7 3.4-49.3 1.1-10.1 .6-2.5 .5-.8 .5,.5 .5,2 1,7.7 1.1,13.3 3.3,48.3 1.1,10.1 .5,2.6 .5,1.3 .2,.2 .3-.3 .5-1.5 1.1-7.4 1.1-14.1 3.5-49.4 1.1-10 .5-2.5 .6-.8 .5,.5 .5,2 1,7.8 1.1,13.9 3.2,47.1 1.1,10.3 .5,2.8 .5,1.4 .3,.2 .2-.2 .6-1.6 1-7.5 1.2-14.1 3.4-49.3 1.2-10 .5-2.5 .5-.8 .5,.5 .5,2 1.1,8.3 1,13.5 3.2,46.5 1.1,10.2 .5,3 .5,1.6 .3,.3 .2,0 .5-1.3 1.1-7.5 1.2-13.9 3.5-50 1.1-9.9 .6-2.5 .5-.8 .5,.5 .5,2 .9,7.4 1.2,13.8 3.3,48.8 1.2,10 .5,2.6 .6,.9 .5-.8 .6-2.5 1.1-9.8 3.5-50.6 1.2-14.2 .6-4.6 .6-2.7 .6-.8 .2,.2 .3,.8 .9,4.5 .9,8.9 3.7,53.2 .9,10.1 .8,5.9" fill="none" stroke="#0000ff" stroke-width="1.3" stroke-linejoin="round" stroke-linecap="round" />
<path d="M400.2,89.4l1.1,21.1 .9,10.4 .4,3.5 .5,1.9 .2,.3 .3,0 .5-1.2 .8-5.6 .9-9.8 3-43.7 1.1-14.1 1.2-8.9 .6-1.7 .3-.1 .3,.3 .5,1.7 .5,2.9 1,10.1 3.3,47.2 1.1,14.3 1.1,7.8 .6,1.6 .3,.1 .2-.3 .5-1.5 .5-3 1.1-10 3.2-47.1 1.1-13.9 1.1-8.2 .6-1.7 .3-.3 .2,.1 .5,1.3 .5,2.6 1.1,10 3.3,48.3 1.1,13.8 1.1,7.8 .5,1.8 .3,.3 .2-.1 .5-1.2 .6-2.9 1.1-10.1 3.3-47.7 1.1-13.8 1-8 .5-1.8 .3-.4 .3,0 .5,1.1 .5,2.7 1.1,10.3 3.4,48.2 1.1,13.8 1,7.8 .5,1.7 .3,.4 .3,0 .5-1.1 .5-2.8 1.1-9.9 3.4-48.9 1.1-13.2 1-7.7 .5-1.9 .2-.4 .3-.1 .5,.9 .5,2.6 1.1,10.1 3.4,48.8 1.2,13.8 1,7.5 .5,1.9 .2,.4 .3,0 .5-1 .5-2.6 1.1-10.3 3.4-48.2 1.1-13.8 1-7.7 .5-1.9 .3-.4 .2-.1 .5,.9 .6,2.6 1.1,10.1 3.4,48.8 1.1,13.8 1,7.5 .5,1.9 .3,.4 .2,0 .5-1 .6-2.6 1.1-10.3 3.3-48.2 1.2-13.9 1-7.6 .5-1.9 .2-.4 .3-.1 .5,1 .5,2.5 1.2,10.2 3.3,48.8 1.2,13.7 1,7.6 .5,1.8 .4,.4 .5-.9 .6-2.5 1.1-10 3.4-49.4 1.1-13.2 1-7.6 .5-1.9 .5-.5 .5,.8 .5,2.5 1.2,9.9 3.4,49.4 1.1,13.7 1,7.3 .5,1.9 .4,.5 .5-.7 .5-2.2 1.1-9.1 4-56.3 .9-9.9 .8-5.7 .5-1.7 .3-.4 .2,.1 .5,1 .5,2.5 1.1,9.2 1.2,16.1" fill="none" stroke="#ff0000" stroke-width="1.3" stroke-linejoin="round" stroke-linecap="round" />
</g>
<g clip-path="url(#cB)">
<path d="M38.2,275.9l3.7-.4 .9-.4 .7-.6 .6-1.1 .4-1.7 .5-4.9 .3-48.9 .3-205.2 .4,245.2 .2,10.5 .5,3.5 .6,2.1 .6,.7 .6,.5 1,.4 1.3,.2 1.6,.1 .4-2.8 .5,2.8 13.7,.1 .4-3.5 .5,3.5 5.3-.1 .8-.3 .5-.6 .2-8.3 .4-59.1 .3,63 .2,4.2 .5,.8 .8,.3 1.4,.1 8.7,0 1.5-.3 .4-.3 .2-.5 .2-6.4 .4-46 .4,49.1 .1,3.3 .6,.7 .9,.3 2.1,.1 19.4,0 3.9-.1 .8-.1 .5-.3 .4-.8 .1-1.5 .4-23.8 .4,23.8 .2,1.7 .6,.8 2.1,.3 7.7,0 2-.2 .8-.4 .4-.6 .1-.9 .3-14.2 .5,14.8 .3,.8 .6,.4 1.5,.3 4.4,0 .4-1 .3,1 14,0 .3-.7 .3,.7 4.9,0 1.6-.3 .6-.7 .2-1 .4-12.8 .3,11.9 .1,1.4 .3,.8 .6,.4 1.1,.3 8.1,0" fill="none" stroke="#ff0000" stroke-width="1.7" stroke-linejoin="round" stroke-linecap="round" />
<path d="M45.6,275.3V170.7" stroke="#0000ff" stroke-width="1.3" stroke-dasharray="2.8,8.5"/>
<path d="M89.7,275.3V225.0" stroke="#0000ff" stroke-width="1.3" stroke-dasharray="2.8,8.5"/>
<path d="M119.3,275.3V251.9" stroke="#0000ff" stroke-width="1.3" stroke-dasharray="2.8,8.5"/>
<path d="M133.9,275.3V262.2" stroke="#0000ff" stroke-width="1.3" stroke-dasharray="2.8,8.5"/>
<path d="M164.2,275.3V263.7" stroke="#0000ff" stroke-width="1.3" stroke-dasharray="2.8,8.5"/>
</g>
<g clip-path="url(#cE)">
<path d="M218.8,275.9l3.7-.3 .9-.4 .7-.6 .6-.9 .4-1.5 .5-2.9 0-1.7 .3-48.6 .3-205.1 .4,245 .2,10.2 .5,3 .6,1.9 .7,.9 1.1,.6 1.7,.3 3.1,.1 59.7,.1 3.7,0 1.3-.3 .5-.6 .1-2.8 .4-42 .4,42 .2,2.8 .3,.5 .6,.3 1.3,.1 8.4,0 2.1-.1 .9-.5 .2-4 .3-29.1 .3,29.1 .2,3.7 .3,.5 .5,.3 .8,.1 5.1,0 .4-3.7 .4,3.7 13.9,0 .4-3.7 .4,3.7 7.3,0 .3-.7 .3,.7 10.3,0" fill="none" stroke="#ff0000" stroke-width="1.7" stroke-linejoin="round" stroke-linecap="round" />
<path d="M226.2,275.3V170.7" stroke="#0000ff" stroke-width="1.3" stroke-dasharray="2.8,8.5"/>
<path d="M300.2,275.3V232.3" stroke="#0000ff" stroke-width="1.3" stroke-dasharray="2.8,8.5"/>
<path d="M314.9,275.3V243.9" stroke="#0000ff" stroke-width="1.3" stroke-dasharray="2.8,8.5"/>
</g>
<g clip-path="url(#cH)">
<path d="M400.2,247.7l.2-22.8 .3,35.5 .2,9.1 .2,.1 .8-.8 1.3-1.8 .9-2.1 .7-2.4 .6-3 .5-3.5 .6-9.1 0-.3 .7-.3 0-.2 .1-3.1 .3-496.9 .3,493.7 .1,6.4 .6,.4 .7,9.7 .5,3.4 .5,2.9 .7,2.3 .9,1.9 1.1,1.7 1.3,1.3 1.6,1.1 2,.9 2.4,.8 2.8,.6 7.7,1 11.2,.7 15.9,.4 23,.3 .2-3.1 .3-13.5 .4,16.6 13.8,0 .4-10 .5,10 40.3,.1" fill="none" stroke="#ff0000" stroke-width="1.7" stroke-linejoin="round" stroke-linecap="round" />
<path d="M407.6,275.3V170.7" stroke="#0000ff" stroke-width="1.3" stroke-dasharray="2.8,8.5"/>
<path d="M481.4,275.3V259.2" stroke="#0000ff" stroke-width="1.3" stroke-dasharray="2.8,8.5"/>
<path d="M496.0,275.3V265.7" stroke="#0000ff" stroke-width="1.3" stroke-dasharray="2.8,8.5"/>
<path d="M400.5,275.3V236.1" stroke="#0000ff" stroke-width="1.3" stroke-dasharray="2.8,8.5"/>
<path d="M400.2,261.6l.4-13.1 .5,15.4 .2,3.4 .1,.2 .2,0 1-1.5 .8-1.7 .7-1.9 .8-3.3 .6-4.3 .6-6 .4-8.7 0-.3 .3-.2M408.4,239.6l.2,.2 .5,9.4 .7,7 .8,4.4 1.1,3.6 1.5,2.8 .9,1.2 1.1,1 2.7,1.7 3.5,1.3 4.8,1 6.2,.8 8.1,.6 10.5,.4 31,.5 54.8,.2" fill="none" stroke="#0000ff" stroke-width="1.3" stroke-linejoin="round" stroke-linecap="round" stroke-dasharray="2.8,5" stroke-linecap="butt"/>
</g>
<g clip-path="url(#cC)">
<path d="M107,337.6l57,14.6 -.2,28.8 -56.9,15 -58.4-15 .3-29.4 58.2-14z" fill="none" stroke="#0000ff" stroke-width="3.0" stroke-linejoin="round"/>
<path d="M100.5,332.5L105.5,337.8" stroke="#0000ff" stroke-width="4.5" stroke-linecap="round"/>
<path d="M49.5,350.8L61.5,348.4" stroke="#0000ff" stroke-width="4.0" stroke-linecap="round"/>
<path d="M49.0,351.6L37.0,352.6" stroke="#0000ff" stroke-width="2.6" stroke-linecap="round"/>
<path d="M46.5,383.0L42.8,385.8" stroke="#0000ff" stroke-width="3.4" stroke-linecap="round"/>
<path d="M47.6,377.5L48.2,382.5" stroke="#0000ff" stroke-width="6.0" stroke-linecap="round"/>
<path d="M106.2,395.5L112.2,400.3" stroke="#0000ff" stroke-width="4.2" stroke-linecap="round"/>
<path d="M152.5,383.6L162.5,381.6" stroke="#0000ff" stroke-width="3.8" stroke-linecap="round"/>
<path d="M163.5,381.5L176.0,381.5" stroke="#0000ff" stroke-width="2.6" stroke-linecap="round"/>
<path d="M164.0,352.5L170.0,347.8" stroke="#0000ff" stroke-width="3.2" stroke-linecap="round"/>
<path d="M164.5,353.5L168.3,356.3" stroke="#0000ff" stroke-width="3.6" stroke-linecap="round"/>
<path d="M161.0,350.8L164.8,352.8" stroke="#0000ff" stroke-width="4.2" stroke-linecap="round"/>
</g>
<g clip-path="url(#cF)">
<path d="M248.5,374.1 L239.2,340.5 L234.8,341.5 L239.5,375.9 L251.4,354.0 L264.7,327.0 L261.3,325.0 L244.6,350.0 L269.9,342.3 L298.0,323.7 L296.0,320.3 L266.1,335.7 L292.4,338.9 L329.2,333.0 L328.8,329.0 L291.6,331.1 L308.4,346.9 L348.7,351.0 L349.3,347.0 L309.6,339.1 L320.4,358.5 L351.2,370.7 L352.8,367.3 L323.6,351.5 L329.1,364.7 L336.0,393.3 L340.0,392.7 L336.9,363.3 L322.1,381.5 L306.5,402.8 L309.5,405.2 L327.9,386.5 L304.6,391.4 L275.3,405.2 L276.7,408.8 L307.4,398.6 L286.1,394.2 L258.1,395.1 L257.9,398.9 L285.9,401.8 L268.5,400.4 L246.2,399.2 L245.8,402.8 L267.5,407.6 L265.6,387.2 L226.3,383.1 L225.7,386.9 L264.4,394.8 L251.7,374.5 L221.8,362.3 L220.2,365.7 L248.3,381.5 L248.5,374.1" fill="none" stroke="#0000ff" stroke-width="5.6" stroke-linejoin="miter" stroke-miterlimit="2.2"/>
</g>
<g clip-path="url(#cI)">
<path d="M481.7,331.7l7,1.4 6.9,.7 6.5,1.3 5.1,2.8 4.5,3.1 4.7,3 3.6,3.8 3.2,9.3 2.6,4.8 1.4,6.3 -1.2,6.3 -1.9,5 -1.4,4.7 -2.3,4.3 -3.9,3.4 -4,3.3 -3.7,3.6 -5,2.8 -6.6,1.1 -6.7,.7 -6.8,1.4 -8.7,.8 -8.9-.6 -7.1-.9 -6.8-.7 -6-1.8 -4.5-3.1 -4.1-3.1 -5-2.6 -4.2-3.4 -2.1-4.4 -1.3-4.7 -1.8-4.9 -.5-6.2 1.3-6.1 1.3-5 .5-4.9 1.9-4.4 4.3-3.3 4.7-2.8 4.1-3.1 4.9-2.7 6.1-1.5 6.4-1.3 6.8-1.6 8.8-.4 8.7,1.2 6.7,1.4 6.7,.7 6.2,1.2 4.9,2.7 4.3,3.1 4.4,3 3.4,3.7 2.7,9.1 2.4,4.8 1.1,6.2 -1.4,6.2 -2.1,4.9 -1.6,4.7 -2.5,4.2 -4.2,3.4 -4.2,3.2 -3.9,3.6 -5.2,2.7 -6.8,1 -6.9,.6 -7,1.3 -8.9,.8 -9-.6 -7.3-1 -7-.8 -6.2-1.8 -4.6-3.3 -4.3-3.1 -5.1-2.7 -4.4-3.4 -2.2-4.5 -1.5-4.8 -1.8-5 -.7-6.2 1.2-6.2 1.2-5 .4-5 1.8-4.5 4.3-3.4 4.6-2.8 4-3.2 4.8-2.8 6.1-1.5 6.3-1.3 6.8-1.7 8.7-.5 8.7,1.2 6.8,1.3 6.6,.6 6.3,1.2 4.9,2.6 4.2,3 4.5,3 3.4,3.6 2.8,9.1 2.4,4.7 1.3,6.1 -1.4,6.2 -2,4.9 -1.5,4.6 -2.4,4.2 -4.1,3.3 -4.1,3.2 -3.8,3.5 -5.1,2.7 -6.6,.9 -6.8,.7 -6.9,1.2 -8.7,.8 -8.9-.7 -7.1-1 -6.8-.8 -6-1.9 -4.5-3.2 -4.1-3.2 -5-2.7 -4.1-3.4 -2.1-4.5 -1.2-4.8 -1.7-5 -.4-6.3 1.4-6.2 1.4-5 .6-5 2.1-4.5 4.4-3.4 4.9-2.8 4.3-3.2 5-2.8 6.3-1.5 6.5-1.3 7-1.7 9-.5 9,1.2 6.9,1.3 6.9,.6 6.5,1.3 5.1,2.6 4.6,3 4.7,3 3.6,3.7 3.3,9.1 2.6,4.7 1.5,6.2 -1.2,6.2 -1.8,4.9 -1.2,4.6 -2.3,4.3 -3.8,3.3 -3.9,3.2 -3.6,3.6 -4.9,2.7 -6.4,1 -6.6,.7 -6.7,1.3 -8.6,.8 -8.7-.6 -6.9-1 -6.7-.8 -5.8-1.8 -4.3-3.2 -4-3.1 -4.8-2.7 -4.1-3.3 -1.9-4.5 -1.1-4.7 -1.6-4.9 -.3-6.2 1.5-6.2 1.5-4.9 .7-5 2.1-4.4 4.6-3.3 4.8-2.8 4.4-3.2 5.1-2.6 6.3-1.5 6.6-1.3 7-1.5 9-.5 8.9,1.3 7,1.4 6.9,.6 6.4,1.3 5.2,2.8 4.4,3.1 4.7,3 3.5,3.7 3.2,9.3 2.6,4.8 1.4,6.2 -1.3,6.3 -1.9,5 -1.3,4.7 -2.3,4.3 -4,3.4 -4,3.3 -3.7,3.6 -5.1,2.8 -6.6,1.1 -6.7,.7 -6.9,1.4 -8.7,.9 -8.8-.6 -7.1-.9 -6.9-.7 -6-1.8 -4.5-3.1 -4.2-3.1 -5-2.6 -4.3-3.3 -2.1-4.3 -1.3-4.7 -1.8-4.9 -.6-6.1 1.4-6.2 1.2-4.8 .5-4.9 1.9-4.4 4.3-3.3 4.7-2.7 4.1-3.1 4.8-2.6 6.1-1.4 6.3-1.3 6.8-1.5 8.8-.4 8.7,1.3 6.7,1.4 6.7,.7 6.2,1.4 4.9,2.7 4.2,3.2 4.5,3 3.3,3.8 2.7,9.3 2.4,4.8 1.1,6.3 -1.4,6.3 -2.2,5 -1.5,4.7 -2.6,4.3 -4.1,3.5 -4.2,3.3 -3.9,3.6 -5.3,2.8 -6.7,1.1 -6.9,.7 -7.1,1.4 -8.9,.9 -9-.6 -7.3-.9 -7-.7 -6.1-1.7 -4.7-3.2 -4.3-3.1 -5.1-2.6 -4.4-3.3 -2.2-4.4 -1.4-4.7 -1.9-4.9 -.7-6.1 1.3-6.2 1.2-4.9 .4-4.9 1.8-4.4 4.3-3.3 4.6-2.7 4-3.1 4.9-2.7 6-1.5 6.4-1.2 6.8-1.6 8.7-.4 8.7,1.2 6.8,1.5 6.7,.6 6.2,1.3 5,2.7 4.3,3.1 4.5,3 3.3,3.7 2.9,9.2 2.4,4.8 1.3,6.2 -1.3,6.3 -2.1,4.9 -1.4,4.7 -2.4,4.3 -4,3.4 -4.1,3.2 -3.8,3.6 -5.1,2.7 -6.6,1 -6.7,.7 -6.9,1.3 -8.7,.8 -8.8-.6 -7.1-1 -6.8-.7 -6-1.9 -4.5-3.2 -4.1-3.1 -4.9-2.7 -4.2-3.4 -2-4.4 -1.2-4.8 -1.6-5 -.5-6.2 1.5-6.2 1.4-5 .6-4.9 2.1-4.5 4.5-3.4 4.9-2.8 4.3-3.2 5-2.7 6.3-1.5 6.6-1.4 7-1.6 9-.5 9,1.2 7,1.3 6.9,.6 6.5,1.2 5.1,2.7 4.6,3 4.7,2.9 3.6,3.7 3.3,9.1 2.6,4.7 1.5,6.1 -1.1,6.3 -1.8,4.8 -1.3,4.6 -2.2,4.2 -3.8,3.4 -3.9,3.1 -3.6,3.6 -4.9,2.6 -6.4,1 -6.6,.6 -6.7,1.3 -8.6,.8 -8.7-.7 -6.9-1 -6.7-.8 -5.9-1.9 -4.3-3.3 -4-3.2 -4.8-2.7 -4-3.4 -1.9-4.5 -1.2-4.8 -1.5-5 -.4-6.2 1.5-6.3 1.5-5 .7-5 2.1-4.5 4.5-3.4 4.9-2.8 4.3-3.2 5.1-2.8 6.3-1.5 6.6-1.4 7-1.6 9-.6 8.9,1.2 6.9,1.3 6.9,.6 6.4,1.2 5.1,2.7 4.5,3 4.6,2.9 3.6,3.7 3.1,9.1 2.5,4.7 1.4,6.1 -1.3,6.3 -1.9,4.8 -1.4,4.7 -2.3,4.2 -4,3.3 -4,3.2 -3.8,3.5 -5,2.7 -6.6,1 -6.8,.7 -6.9,1.3 -8.7,.8 -8.9-.7 -7.1-1 -6.9-.8 -6.1-1.8 -4.5-3.2 -4.2-3.2 -5-2.7 -4.3-3.3 -2.1-4.5 -1.4-4.7 -1.8-5 -.6-6.2 1.3-6.2 1.3-5 .4-4.9 1.9-4.5 4.3-3.3 4.6-2.8 4.1-3.2 4.9-2.7 6-1.5 6.3-1.3 6.8-1.6 8.8-.5 8.7,1.3" fill="none" stroke="#0000ff" stroke-width="2.7" stroke-linejoin="round" stroke-linecap="round" />
</g>
<rect x="38.2" y="35.5" width="136.5" height="100.8" fill="none" stroke="#5a5a5a" stroke-width="1.1"/>
<line x1="38.2" y1="136.3" x2="38.2" y2="134.9" stroke="#5a5a5a" stroke-width="0.8"/>
<line x1="38.2" y1="35.5" x2="38.2" y2="36.9" stroke="#5a5a5a" stroke-width="0.8"/>
<line x1="72.3" y1="136.3" x2="72.3" y2="134.9" stroke="#5a5a5a" stroke-width="0.8"/>
<line x1="72.3" y1="35.5" x2="72.3" y2="36.9" stroke="#5a5a5a" stroke-width="0.8"/>
<line x1="106.5" y1="136.3" x2="106.5" y2="134.9" stroke="#5a5a5a" stroke-width="0.8"/>
<line x1="106.5" y1="35.5" x2="106.5" y2="36.9" stroke="#5a5a5a" stroke-width="0.8"/>
<line x1="140.6" y1="136.3" x2="140.6" y2="134.9" stroke="#5a5a5a" stroke-width="0.8"/>
<line x1="140.6" y1="35.5" x2="140.6" y2="36.9" stroke="#5a5a5a" stroke-width="0.8"/>
<line x1="174.7" y1="136.3" x2="174.7" y2="134.9" stroke="#5a5a5a" stroke-width="0.8"/>
<line x1="174.7" y1="35.5" x2="174.7" y2="36.9" stroke="#5a5a5a" stroke-width="0.8"/>
<line x1="38.2" y1="122.6" x2="39.6" y2="122.6" stroke="#5a5a5a" stroke-width="0.8"/>
<line x1="174.7" y1="122.6" x2="173.3" y2="122.6" stroke="#5a5a5a" stroke-width="0.8"/>
<line x1="38.2" y1="104.3" x2="39.6" y2="104.3" stroke="#5a5a5a" stroke-width="0.8"/>
<line x1="174.7" y1="104.3" x2="173.3" y2="104.3" stroke="#5a5a5a" stroke-width="0.8"/>
<line x1="38.2" y1="86.1" x2="39.6" y2="86.1" stroke="#5a5a5a" stroke-width="0.8"/>
<line x1="174.7" y1="86.1" x2="173.3" y2="86.1" stroke="#5a5a5a" stroke-width="0.8"/>
<line x1="38.2" y1="67.8" x2="39.6" y2="67.8" stroke="#5a5a5a" stroke-width="0.8"/>
<line x1="174.7" y1="67.8" x2="173.3" y2="67.8" stroke="#5a5a5a" stroke-width="0.8"/>
<line x1="38.2" y1="49.6" x2="39.6" y2="49.6" stroke="#5a5a5a" stroke-width="0.8"/>
<line x1="174.7" y1="49.6" x2="173.3" y2="49.6" stroke="#5a5a5a" stroke-width="0.8"/>
<text x="38.2" y="145.8" text-anchor="middle" font-family="Liberation Sans, Arial, sans-serif" font-weight="bold" font-size="7.3" fill="#222" stroke="#222" stroke-width="0.35">0</text>
<text x="72.3" y="145.8" text-anchor="middle" font-family="Liberation Sans, Arial, sans-serif" font-weight="bold" font-size="7.3" fill="#222" stroke="#222" stroke-width="0.35">0.05</text>
<text x="106.5" y="145.8" text-anchor="middle" font-family="Liberation Sans, Arial, sans-serif" font-weight="bold" font-size="7.3" fill="#222" stroke="#222" stroke-width="0.35">0.1</text>
<text x="140.6" y="145.8" text-anchor="middle" font-family="Liberation Sans, Arial, sans-serif" font-weight="bold" font-size="7.3" fill="#222" stroke="#222" stroke-width="0.35">0.15</text>
<text x="174.7" y="145.8" text-anchor="middle" font-family="Liberation Sans, Arial, sans-serif" font-weight="bold" font-size="7.3" fill="#222" stroke="#222" stroke-width="0.35">0.2</text>
<text x="36.0" y="125.1" text-anchor="end" font-family="Liberation Sans, Arial, sans-serif" font-weight="bold" font-size="7.3" fill="#222" stroke="#222" stroke-width="0.35">-100</text>
<text x="36.0" y="106.8" text-anchor="end" font-family="Liberation Sans, Arial, sans-serif" font-weight="bold" font-size="7.3" fill="#222" stroke="#222" stroke-width="0.35">-50</text>
<text x="36.0" y="88.6" text-anchor="end" font-family="Liberation Sans, Arial, sans-serif" font-weight="bold" font-size="7.3" fill="#222" stroke="#222" stroke-width="0.35">0</text>
<text x="36.0" y="70.3" text-anchor="end" font-family="Liberation Sans, Arial, sans-serif" font-weight="bold" font-size="7.3" fill="#222" stroke="#222" stroke-width="0.35">50</text>
<text x="36.0" y="52.1" text-anchor="end" font-family="Liberation Sans, Arial, sans-serif" font-weight="bold" font-size="7.3" fill="#222" stroke="#222" stroke-width="0.35">100</text>
<rect x="218.8" y="35.5" width="137.0" height="100.8" fill="none" stroke="#5a5a5a" stroke-width="1.1"/>
<line x1="218.8" y1="136.3" x2="218.8" y2="134.9" stroke="#5a5a5a" stroke-width="0.8"/>
<line x1="218.8" y1="35.5" x2="218.8" y2="36.9" stroke="#5a5a5a" stroke-width="0.8"/>
<line x1="253.1" y1="136.3" x2="253.1" y2="134.9" stroke="#5a5a5a" stroke-width="0.8"/>
<line x1="253.1" y1="35.5" x2="253.1" y2="36.9" stroke="#5a5a5a" stroke-width="0.8"/>
<line x1="287.3" y1="136.3" x2="287.3" y2="134.9" stroke="#5a5a5a" stroke-width="0.8"/>
<line x1="287.3" y1="35.5" x2="287.3" y2="36.9" stroke="#5a5a5a" stroke-width="0.8"/>
<line x1="321.6" y1="136.3" x2="321.6" y2="134.9" stroke="#5a5a5a" stroke-width="0.8"/>
<line x1="321.6" y1="35.5" x2="321.6" y2="36.9" stroke="#5a5a5a" stroke-width="0.8"/>
<line x1="355.8" y1="136.3" x2="355.8" y2="134.9" stroke="#5a5a5a" stroke-width="0.8"/>
<line x1="355.8" y1="35.5" x2="355.8" y2="36.9" stroke="#5a5a5a" stroke-width="0.8"/>
<line x1="218.8" y1="130.3" x2="220.2" y2="130.3" stroke="#5a5a5a" stroke-width="0.8"/>
<line x1="355.8" y1="130.3" x2="354.4" y2="130.3" stroke="#5a5a5a" stroke-width="0.8"/>
<line x1="218.8" y1="108.1" x2="220.2" y2="108.1" stroke="#5a5a5a" stroke-width="0.8"/>
<line x1="355.8" y1="108.1" x2="354.4" y2="108.1" stroke="#5a5a5a" stroke-width="0.8"/>
<line x1="218.8" y1="85.9" x2="220.2" y2="85.9" stroke="#5a5a5a" stroke-width="0.8"/>
<line x1="355.8" y1="85.9" x2="354.4" y2="85.9" stroke="#5a5a5a" stroke-width="0.8"/>
<line x1="218.8" y1="63.7" x2="220.2" y2="63.7" stroke="#5a5a5a" stroke-width="0.8"/>
<line x1="355.8" y1="63.7" x2="354.4" y2="63.7" stroke="#5a5a5a" stroke-width="0.8"/>
<line x1="218.8" y1="41.5" x2="220.2" y2="41.5" stroke="#5a5a5a" stroke-width="0.8"/>
<line x1="355.8" y1="41.5" x2="354.4" y2="41.5" stroke="#5a5a5a" stroke-width="0.8"/>
<text x="218.8" y="145.8" text-anchor="middle" font-family="Liberation Sans, Arial, sans-serif" font-weight="bold" font-size="7.3" fill="#222" stroke="#222" stroke-width="0.35">0</text>
<text x="253.1" y="145.8" text-anchor="middle" font-family="Liberation Sans, Arial, sans-serif" font-weight="bold" font-size="7.3" fill="#222" stroke="#222" stroke-width="0.35">0.05</text>
<text x="287.3" y="145.8" text-anchor="middle" font-family="Liberation Sans, Arial, sans-serif" font-weight="bold" font-size="7.3" fill="#222" stroke="#222" stroke-width="0.35">0.1</text>
<text x="321.6" y="145.8" text-anchor="middle" font-family="Liberation Sans, Arial, sans-serif" font-weight="bold" font-size="7.3" fill="#222" stroke="#222" stroke-width="0.35">0.15</text>
<text x="355.8" y="145.8" text-anchor="middle" font-family="Liberation Sans, Arial, sans-serif" font-weight="bold" font-size="7.3" fill="#222" stroke="#222" stroke-width="0.35">0.2</text>
<text x="216.6" y="132.8" text-anchor="end" font-family="Liberation Sans, Arial, sans-serif" font-weight="bold" font-size="7.3" fill="#222" stroke="#222" stroke-width="0.35">-10</text>
<text x="216.6" y="110.6" text-anchor="end" font-family="Liberation Sans, Arial, sans-serif" font-weight="bold" font-size="7.3" fill="#222" stroke="#222" stroke-width="0.35">-5</text>
<text x="216.6" y="88.4" text-anchor="end" font-family="Liberation Sans, Arial, sans-serif" font-weight="bold" font-size="7.3" fill="#222" stroke="#222" stroke-width="0.35">0</text>
<text x="216.6" y="66.2" text-anchor="end" font-family="Liberation Sans, Arial, sans-serif" font-weight="bold" font-size="7.3" fill="#222" stroke="#222" stroke-width="0.35">5</text>
<text x="216.6" y="44.0" text-anchor="end" font-family="Liberation Sans, Arial, sans-serif" font-weight="bold" font-size="7.3" fill="#222" stroke="#222" stroke-width="0.35">10</text>
<rect x="400.2" y="35.5" width="136.6" height="100.8" fill="none" stroke="#5a5a5a" stroke-width="1.1"/>
<line x1="400.2" y1="136.3" x2="400.2" y2="134.9" stroke="#5a5a5a" stroke-width="0.8"/>
<line x1="400.2" y1="35.5" x2="400.2" y2="36.9" stroke="#5a5a5a" stroke-width="0.8"/>
<line x1="434.3" y1="136.3" x2="434.3" y2="134.9" stroke="#5a5a5a" stroke-width="0.8"/>
<line x1="434.3" y1="35.5" x2="434.3" y2="36.9" stroke="#5a5a5a" stroke-width="0.8"/>
<line x1="468.5" y1="136.3" x2="468.5" y2="134.9" stroke="#5a5a5a" stroke-width="0.8"/>
<line x1="468.5" y1="35.5" x2="468.5" y2="36.9" stroke="#5a5a5a" stroke-width="0.8"/>
<line x1="502.6" y1="136.3" x2="502.6" y2="134.9" stroke="#5a5a5a" stroke-width="0.8"/>
<line x1="502.6" y1="35.5" x2="502.6" y2="36.9" stroke="#5a5a5a" stroke-width="0.8"/>
<line x1="536.8" y1="136.3" x2="536.8" y2="134.9" stroke="#5a5a5a" stroke-width="0.8"/>
<line x1="536.8" y1="35.5" x2="536.8" y2="36.9" stroke="#5a5a5a" stroke-width="0.8"/>
<line x1="400.2" y1="132.1" x2="401.6" y2="132.1" stroke="#5a5a5a" stroke-width="0.8"/>
<line x1="536.8" y1="132.1" x2="535.4" y2="132.1" stroke="#5a5a5a" stroke-width="0.8"/>
<line x1="400.2" y1="109.0" x2="401.6" y2="109.0" stroke="#5a5a5a" stroke-width="0.8"/>
<line x1="536.8" y1="109.0" x2="535.4" y2="109.0" stroke="#5a5a5a" stroke-width="0.8"/>
<line x1="400.2" y1="85.9" x2="401.6" y2="85.9" stroke="#5a5a5a" stroke-width="0.8"/>
<line x1="536.8" y1="85.9" x2="535.4" y2="85.9" stroke="#5a5a5a" stroke-width="0.8"/>
<line x1="400.2" y1="62.8" x2="401.6" y2="62.8" stroke="#5a5a5a" stroke-width="0.8"/>
<line x1="536.8" y1="62.8" x2="535.4" y2="62.8" stroke="#5a5a5a" stroke-width="0.8"/>
<line x1="400.2" y1="39.7" x2="401.6" y2="39.7" stroke="#5a5a5a" stroke-width="0.8"/>
<line x1="536.8" y1="39.7" x2="535.4" y2="39.7" stroke="#5a5a5a" stroke-width="0.8"/>
<text x="400.2" y="145.8" text-anchor="middle" font-family="Liberation Sans, Arial, sans-serif" font-weight="bold" font-size="7.3" fill="#222" stroke="#222" stroke-width="0.35">0</text>
<text x="434.3" y="145.8" text-anchor="middle" font-family="Liberation Sans, Arial, sans-serif" font-weight="bold" font-size="7.3" fill="#222" stroke="#222" stroke-width="0.35">0.05</text>
<text x="468.5" y="145.8" text-anchor="middle" font-family="Liberation Sans, Arial, sans-serif" font-weight="bold" font-size="7.3" fill="#222" stroke="#222" stroke-width="0.35">0.1</text>
<text x="502.6" y="145.8" text-anchor="middle" font-family="Liberation Sans, Arial, sans-serif" font-weight="bold" font-size="7.3" fill="#222" stroke="#222" stroke-width="0.35">0.15</text>
<text x="536.8" y="145.8" text-anchor="middle" font-family="Liberation Sans, Arial, sans-serif" font-weight="bold" font-size="7.3" fill="#222" stroke="#222" stroke-width="0.35">0.2</text>
<text x="398.0" y="134.6" text-anchor="end" font-family="Liberation Sans, Arial, sans-serif" font-weight="bold" font-size="7.3" fill="#222" stroke="#222" stroke-width="0.35">-40</text>
<text x="398.0" y="111.5" text-anchor="end" font-family="Liberation Sans, Arial, sans-serif" font-weight="bold" font-size="7.3" fill="#222" stroke="#222" stroke-width="0.35">-20</text>
<text x="398.0" y="88.4" text-anchor="end" font-family="Liberation Sans, Arial, sans-serif" font-weight="bold" font-size="7.3" fill="#222" stroke="#222" stroke-width="0.35">0</text>
<text x="398.0" y="65.3" text-anchor="end" font-family="Liberation Sans, Arial, sans-serif" font-weight="bold" font-size="7.3" fill="#222" stroke="#222" stroke-width="0.35">20</text>
<text x="398.0" y="42.2" text-anchor="end" font-family="Liberation Sans, Arial, sans-serif" font-weight="bold" font-size="7.3" fill="#222" stroke="#222" stroke-width="0.35">40</text>
<rect x="38.2" y="175.7" width="136.5" height="100.6" fill="none" stroke="#5a5a5a" stroke-width="1.1"/>
<line x1="38.2" y1="276.3" x2="38.2" y2="274.9" stroke="#5a5a5a" stroke-width="0.8"/>
<line x1="38.2" y1="175.7" x2="38.2" y2="177.1" stroke="#5a5a5a" stroke-width="0.8"/>
<line x1="77.2" y1="276.3" x2="77.2" y2="274.9" stroke="#5a5a5a" stroke-width="0.8"/>
<line x1="77.2" y1="175.7" x2="77.2" y2="177.1" stroke="#5a5a5a" stroke-width="0.8"/>
<line x1="116.2" y1="276.3" x2="116.2" y2="274.9" stroke="#5a5a5a" stroke-width="0.8"/>
<line x1="116.2" y1="175.7" x2="116.2" y2="177.1" stroke="#5a5a5a" stroke-width="0.8"/>
<line x1="155.2" y1="276.3" x2="155.2" y2="274.9" stroke="#5a5a5a" stroke-width="0.8"/>
<line x1="155.2" y1="175.7" x2="155.2" y2="177.1" stroke="#5a5a5a" stroke-width="0.8"/>
<line x1="38.2" y1="276.3" x2="39.6" y2="276.3" stroke="#5a5a5a" stroke-width="0.8"/>
<line x1="174.7" y1="276.3" x2="173.3" y2="276.3" stroke="#5a5a5a" stroke-width="0.8"/>
<line x1="38.2" y1="251.2" x2="39.6" y2="251.2" stroke="#5a5a5a" stroke-width="0.8"/>
<line x1="174.7" y1="251.2" x2="173.3" y2="251.2" stroke="#5a5a5a" stroke-width="0.8"/>
<line x1="38.2" y1="226.0" x2="39.6" y2="226.0" stroke="#5a5a5a" stroke-width="0.8"/>
<line x1="174.7" y1="226.0" x2="173.3" y2="226.0" stroke="#5a5a5a" stroke-width="0.8"/>
<line x1="38.2" y1="200.9" x2="39.6" y2="200.9" stroke="#5a5a5a" stroke-width="0.8"/>
<line x1="174.7" y1="200.9" x2="173.3" y2="200.9" stroke="#5a5a5a" stroke-width="0.8"/>
<line x1="38.2" y1="175.7" x2="39.6" y2="175.7" stroke="#5a5a5a" stroke-width="0.8"/>
<line x1="174.7" y1="175.7" x2="173.3" y2="175.7" stroke="#5a5a5a" stroke-width="0.8"/>
<text x="38.2" y="285.8" text-anchor="middle" font-family="Liberation Sans, Arial, sans-serif" font-weight="bold" font-size="7.3" fill="#222" stroke="#222" stroke-width="0.35">0</text>
<text x="77.2" y="285.8" text-anchor="middle" font-family="Liberation Sans, Arial, sans-serif" font-weight="bold" font-size="7.3" fill="#222" stroke="#222" stroke-width="0.35">200</text>
<text x="116.2" y="285.8" text-anchor="middle" font-family="Liberation Sans, Arial, sans-serif" font-weight="bold" font-size="7.3" fill="#222" stroke="#222" stroke-width="0.35">400</text>
<text x="155.2" y="285.8" text-anchor="middle" font-family="Liberation Sans, Arial, sans-serif" font-weight="bold" font-size="7.3" fill="#222" stroke="#222" stroke-width="0.35">600</text>
<text x="36.0" y="278.8" text-anchor="end" font-family="Liberation Sans, Arial, sans-serif" font-weight="bold" font-size="7.3" fill="#222" stroke="#222" stroke-width="0.35">0</text>
<text x="36.0" y="253.7" text-anchor="end" font-family="Liberation Sans, Arial, sans-serif" font-weight="bold" font-size="7.3" fill="#222" stroke="#222" stroke-width="0.35">0.1</text>
<text x="36.0" y="228.5" text-anchor="end" font-family="Liberation Sans, Arial, sans-serif" font-weight="bold" font-size="7.3" fill="#222" stroke="#222" stroke-width="0.35">0.2</text>
<text x="36.0" y="203.4" text-anchor="end" font-family="Liberation Sans, Arial, sans-serif" font-weight="bold" font-size="7.3" fill="#222" stroke="#222" stroke-width="0.35">0.3</text>
<text x="36.0" y="178.2" text-anchor="end" font-family="Liberation Sans, Arial, sans-serif" font-weight="bold" font-size="7.3" fill="#222" stroke="#222" stroke-width="0.35">0.4</text>
<rect x="218.8" y="175.7" width="137.0" height="100.6" fill="none" stroke="#5a5a5a" stroke-width="1.1"/>
<line x1="218.8" y1="276.3" x2="218.8" y2="274.9" stroke="#5a5a5a" stroke-width="0.8"/>
<line x1="218.8" y1="175.7" x2="218.8" y2="177.1" stroke="#5a5a5a" stroke-width="0.8"/>
<line x1="257.9" y1="276.3" x2="257.9" y2="274.9" stroke="#5a5a5a" stroke-width="0.8"/>
<line x1="257.9" y1="175.7" x2="257.9" y2="177.1" stroke="#5a5a5a" stroke-width="0.8"/>
<line x1="297.1" y1="276.3" x2="297.1" y2="274.9" stroke="#5a5a5a" stroke-width="0.8"/>
<line x1="297.1" y1="175.7" x2="297.1" y2="177.1" stroke="#5a5a5a" stroke-width="0.8"/>
<line x1="336.2" y1="276.3" x2="336.2" y2="274.9" stroke="#5a5a5a" stroke-width="0.8"/>
<line x1="336.2" y1="175.7" x2="336.2" y2="177.1" stroke="#5a5a5a" stroke-width="0.8"/>
<line x1="218.8" y1="276.3" x2="220.2" y2="276.3" stroke="#5a5a5a" stroke-width="0.8"/>
<line x1="355.8" y1="276.3" x2="354.4" y2="276.3" stroke="#5a5a5a" stroke-width="0.8"/>
<line x1="218.8" y1="251.2" x2="220.2" y2="251.2" stroke="#5a5a5a" stroke-width="0.8"/>
<line x1="355.8" y1="251.2" x2="354.4" y2="251.2" stroke="#5a5a5a" stroke-width="0.8"/>
<line x1="218.8" y1="226.0" x2="220.2" y2="226.0" stroke="#5a5a5a" stroke-width="0.8"/>
<line x1="355.8" y1="226.0" x2="354.4" y2="226.0" stroke="#5a5a5a" stroke-width="0.8"/>
<line x1="218.8" y1="200.9" x2="220.2" y2="200.9" stroke="#5a5a5a" stroke-width="0.8"/>
<line x1="355.8" y1="200.9" x2="354.4" y2="200.9" stroke="#5a5a5a" stroke-width="0.8"/>
<line x1="218.8" y1="175.7" x2="220.2" y2="175.7" stroke="#5a5a5a" stroke-width="0.8"/>
<line x1="355.8" y1="175.7" x2="354.4" y2="175.7" stroke="#5a5a5a" stroke-width="0.8"/>
<text x="218.8" y="285.8" text-anchor="middle" font-family="Liberation Sans, Arial, sans-serif" font-weight="bold" font-size="7.3" fill="#222" stroke="#222" stroke-width="0.35">0</text>
<text x="257.9" y="285.8" text-anchor="middle" font-family="Liberation Sans, Arial, sans-serif" font-weight="bold" font-size="7.3" fill="#222" stroke="#222" stroke-width="0.35">200</text>
<text x="297.1" y="285.8" text-anchor="middle" font-family="Liberation Sans, Arial, sans-serif" font-weight="bold" font-size="7.3" fill="#222" stroke="#222" stroke-width="0.35">400</text>
<text x="336.2" y="285.8" text-anchor="middle" font-family="Liberation Sans, Arial, sans-serif" font-weight="bold" font-size="7.3" fill="#222" stroke="#222" stroke-width="0.35">600</text>
<text x="216.6" y="278.8" text-anchor="end" font-family="Liberation Sans, Arial, sans-serif" font-weight="bold" font-size="7.3" fill="#222" stroke="#222" stroke-width="0.35">0</text>
<text x="216.6" y="253.7" text-anchor="end" font-family="Liberation Sans, Arial, sans-serif" font-weight="bold" font-size="7.3" fill="#222" stroke="#222" stroke-width="0.35">0.1</text>
<text x="216.6" y="228.5" text-anchor="end" font-family="Liberation Sans, Arial, sans-serif" font-weight="bold" font-size="7.3" fill="#222" stroke="#222" stroke-width="0.35">0.2</text>
<text x="216.6" y="203.4" text-anchor="end" font-family="Liberation Sans, Arial, sans-serif" font-weight="bold" font-size="7.3" fill="#222" stroke="#222" stroke-width="0.35">0.3</text>
<text x="216.6" y="178.2" text-anchor="end" font-family="Liberation Sans, Arial, sans-serif" font-weight="bold" font-size="7.3" fill="#222" stroke="#222" stroke-width="0.35">0.4</text>
<rect x="400.2" y="175.7" width="136.6" height="100.6" fill="none" stroke="#5a5a5a" stroke-width="1.1"/>
<line x1="400.2" y1="276.3" x2="400.2" y2="274.9" stroke="#5a5a5a" stroke-width="0.8"/>
<line x1="400.2" y1="175.7" x2="400.2" y2="177.1" stroke="#5a5a5a" stroke-width="0.8"/>
<line x1="439.2" y1="276.3" x2="439.2" y2="274.9" stroke="#5a5a5a" stroke-width="0.8"/>
<line x1="439.2" y1="175.7" x2="439.2" y2="177.1" stroke="#5a5a5a" stroke-width="0.8"/>
<line x1="478.3" y1="276.3" x2="478.3" y2="274.9" stroke="#5a5a5a" stroke-width="0.8"/>
<line x1="478.3" y1="175.7" x2="478.3" y2="177.1" stroke="#5a5a5a" stroke-width="0.8"/>
<line x1="517.3" y1="276.3" x2="517.3" y2="274.9" stroke="#5a5a5a" stroke-width="0.8"/>
<line x1="517.3" y1="175.7" x2="517.3" y2="177.1" stroke="#5a5a5a" stroke-width="0.8"/>
<line x1="400.2" y1="276.3" x2="401.6" y2="276.3" stroke="#5a5a5a" stroke-width="0.8"/>
<line x1="536.8" y1="276.3" x2="535.4" y2="276.3" stroke="#5a5a5a" stroke-width="0.8"/>
<line x1="400.2" y1="256.2" x2="401.6" y2="256.2" stroke="#5a5a5a" stroke-width="0.8"/>
<line x1="536.8" y1="256.2" x2="535.4" y2="256.2" stroke="#5a5a5a" stroke-width="0.8"/>
<line x1="400.2" y1="236.1" x2="401.6" y2="236.1" stroke="#5a5a5a" stroke-width="0.8"/>
<line x1="536.8" y1="236.1" x2="535.4" y2="236.1" stroke="#5a5a5a" stroke-width="0.8"/>
<line x1="400.2" y1="215.9" x2="401.6" y2="215.9" stroke="#5a5a5a" stroke-width="0.8"/>
<line x1="536.8" y1="215.9" x2="535.4" y2="215.9" stroke="#5a5a5a" stroke-width="0.8"/>
<line x1="400.2" y1="195.8" x2="401.6" y2="195.8" stroke="#5a5a5a" stroke-width="0.8"/>
<line x1="536.8" y1="195.8" x2="535.4" y2="195.8" stroke="#5a5a5a" stroke-width="0.8"/>
<line x1="400.2" y1="175.7" x2="401.6" y2="175.7" stroke="#5a5a5a" stroke-width="0.8"/>
<line x1="536.8" y1="175.7" x2="535.4" y2="175.7" stroke="#5a5a5a" stroke-width="0.8"/>
<text x="400.2" y="285.8" text-anchor="middle" font-family="Liberation Sans, Arial, sans-serif" font-weight="bold" font-size="7.3" fill="#222" stroke="#222" stroke-width="0.35">0</text>
<text x="439.2" y="285.8" text-anchor="middle" font-family="Liberation Sans, Arial, sans-serif" font-weight="bold" font-size="7.3" fill="#222" stroke="#222" stroke-width="0.35">200</text>
<text x="478.3" y="285.8" text-anchor="middle" font-family="Liberation Sans, Arial, sans-serif" font-weight="bold" font-size="7.3" fill="#222" stroke="#222" stroke-width="0.35">400</text>
<text x="517.3" y="285.8" text-anchor="middle" font-family="Liberation Sans, Arial, sans-serif" font-weight="bold" font-size="7.3" fill="#222" stroke="#222" stroke-width="0.35">600</text>
<text x="398.0" y="278.8" text-anchor="end" font-family="Liberation Sans, Arial, sans-serif" font-weight="bold" font-size="7.3" fill="#222" stroke="#222" stroke-width="0.35">0</text>
<text x="398.0" y="258.7" text-anchor="end" font-family="Liberation Sans, Arial, sans-serif" font-weight="bold" font-size="7.3" fill="#222" stroke="#222" stroke-width="0.35">0.02</text>
<text x="398.0" y="238.6" text-anchor="end" font-family="Liberation Sans, Arial, sans-serif" font-weight="bold" font-size="7.3" fill="#222" stroke="#222" stroke-width="0.35">0.04</text>
<text x="398.0" y="218.4" text-anchor="end" font-family="Liberation Sans, Arial, sans-serif" font-weight="bold" font-size="7.3" fill="#222" stroke="#222" stroke-width="0.35">0.06</text>
<text x="398.0" y="198.3" text-anchor="end" font-family="Liberation Sans, Arial, sans-serif" font-weight="bold" font-size="7.3" fill="#222" stroke="#222" stroke-width="0.35">0.08</text>
<text x="398.0" y="178.2" text-anchor="end" font-family="Liberation Sans, Arial, sans-serif" font-weight="bold" font-size="7.3" fill="#222" stroke="#222" stroke-width="0.35">0.1</text>
<rect x="38.2" y="316.5" width="136.5" height="100.6" fill="none" stroke="#5a5a5a" stroke-width="1.1"/>
<line x1="50.5" y1="417.1" x2="50.5" y2="415.7" stroke="#5a5a5a" stroke-width="0.8"/>
<line x1="50.5" y1="316.5" x2="50.5" y2="317.9" stroke="#5a5a5a" stroke-width="0.8"/>
<line x1="78.5" y1="417.1" x2="78.5" y2="415.7" stroke="#5a5a5a" stroke-width="0.8"/>
<line x1="78.5" y1="316.5" x2="78.5" y2="317.9" stroke="#5a5a5a" stroke-width="0.8"/>
<line x1="106.5" y1="417.1" x2="106.5" y2="415.7" stroke="#5a5a5a" stroke-width="0.8"/>
<line x1="106.5" y1="316.5" x2="106.5" y2="317.9" stroke="#5a5a5a" stroke-width="0.8"/>
<line x1="134.4" y1="417.1" x2="134.4" y2="415.7" stroke="#5a5a5a" stroke-width="0.8"/>
<line x1="134.4" y1="316.5" x2="134.4" y2="317.9" stroke="#5a5a5a" stroke-width="0.8"/>
<line x1="162.4" y1="417.1" x2="162.4" y2="415.7" stroke="#5a5a5a" stroke-width="0.8"/>
<line x1="162.4" y1="316.5" x2="162.4" y2="317.9" stroke="#5a5a5a" stroke-width="0.8"/>
<line x1="38.2" y1="417.1" x2="39.6" y2="417.1" stroke="#5a5a5a" stroke-width="0.8"/>
<line x1="174.7" y1="417.1" x2="173.3" y2="417.1" stroke="#5a5a5a" stroke-width="0.8"/>
<line x1="38.2" y1="392.0" x2="39.6" y2="392.0" stroke="#5a5a5a" stroke-width="0.8"/>
<line x1="174.7" y1="392.0" x2="173.3" y2="392.0" stroke="#5a5a5a" stroke-width="0.8"/>
<line x1="38.2" y1="366.8" x2="39.6" y2="366.8" stroke="#5a5a5a" stroke-width="0.8"/>
<line x1="174.7" y1="366.8" x2="173.3" y2="366.8" stroke="#5a5a5a" stroke-width="0.8"/>
<line x1="38.2" y1="341.6" x2="39.6" y2="341.6" stroke="#5a5a5a" stroke-width="0.8"/>
<line x1="174.7" y1="341.6" x2="173.3" y2="341.6" stroke="#5a5a5a" stroke-width="0.8"/>
<line x1="38.2" y1="316.5" x2="39.6" y2="316.5" stroke="#5a5a5a" stroke-width="0.8"/>
<line x1="174.7" y1="316.5" x2="173.3" y2="316.5" stroke="#5a5a5a" stroke-width="0.8"/>
<text x="50.5" y="426.6" text-anchor="middle" font-family="Liberation Sans, Arial, sans-serif" font-weight="bold" font-size="7.3" fill="#222" stroke="#222" stroke-width="0.35">-100</text>
<text x="78.5" y="426.6" text-anchor="middle" font-family="Liberation Sans, Arial, sans-serif" font-weight="bold" font-size="7.3" fill="#222" stroke="#222" stroke-width="0.35">-50</text>
<text x="106.5" y="426.6" text-anchor="middle" font-family="Liberation Sans, Arial, sans-serif" font-weight="bold" font-size="7.3" fill="#222" stroke="#222" stroke-width="0.35">0</text>
<text x="134.4" y="426.6" text-anchor="middle" font-family="Liberation Sans, Arial, sans-serif" font-weight="bold" font-size="7.3" fill="#222" stroke="#222" stroke-width="0.35">50</text>
<text x="162.4" y="426.6" text-anchor="middle" font-family="Liberation Sans, Arial, sans-serif" font-weight="bold" font-size="7.3" fill="#222" stroke="#222" stroke-width="0.35">100</text>
<text x="36.0" y="419.6" text-anchor="end" font-family="Liberation Sans, Arial, sans-serif" font-weight="bold" font-size="7.3" fill="#222" stroke="#222" stroke-width="0.35">-200</text>
<text x="36.0" y="394.5" text-anchor="end" font-family="Liberation Sans, Arial, sans-serif" font-weight="bold" font-size="7.3" fill="#222" stroke="#222" stroke-width="0.35">-100</text>
<text x="36.0" y="369.3" text-anchor="end" font-family="Liberation Sans, Arial, sans-serif" font-weight="bold" font-size="7.3" fill="#222" stroke="#222" stroke-width="0.35">0</text>
<text x="36.0" y="344.1" text-anchor="end" font-family="Liberation Sans, Arial, sans-serif" font-weight="bold" font-size="7.3" fill="#222" stroke="#222" stroke-width="0.35">100</text>
<text x="36.0" y="319.0" text-anchor="end" font-family="Liberation Sans, Arial, sans-serif" font-weight="bold" font-size="7.3" fill="#222" stroke="#222" stroke-width="0.35">200</text>
<rect x="218.8" y="316.5" width="137.0" height="100.6" fill="none" stroke="#5a5a5a" stroke-width="1.1"/>
<line x1="227.2" y1="417.1" x2="227.2" y2="415.7" stroke="#5a5a5a" stroke-width="0.8"/>
<line x1="227.2" y1="316.5" x2="227.2" y2="317.9" stroke="#5a5a5a" stroke-width="0.8"/>
<line x1="257.3" y1="417.1" x2="257.3" y2="415.7" stroke="#5a5a5a" stroke-width="0.8"/>
<line x1="257.3" y1="316.5" x2="257.3" y2="317.9" stroke="#5a5a5a" stroke-width="0.8"/>
<line x1="287.3" y1="417.1" x2="287.3" y2="415.7" stroke="#5a5a5a" stroke-width="0.8"/>
<line x1="287.3" y1="316.5" x2="287.3" y2="317.9" stroke="#5a5a5a" stroke-width="0.8"/>
<line x1="317.3" y1="417.1" x2="317.3" y2="415.7" stroke="#5a5a5a" stroke-width="0.8"/>
<line x1="317.3" y1="316.5" x2="317.3" y2="317.9" stroke="#5a5a5a" stroke-width="0.8"/>
<line x1="347.4" y1="417.1" x2="347.4" y2="415.7" stroke="#5a5a5a" stroke-width="0.8"/>
<line x1="347.4" y1="316.5" x2="347.4" y2="317.9" stroke="#5a5a5a" stroke-width="0.8"/>
<line x1="218.8" y1="409.4" x2="220.2" y2="409.4" stroke="#5a5a5a" stroke-width="0.8"/>
<line x1="355.8" y1="409.4" x2="354.4" y2="409.4" stroke="#5a5a5a" stroke-width="0.8"/>
<line x1="218.8" y1="388.1" x2="220.2" y2="388.1" stroke="#5a5a5a" stroke-width="0.8"/>
<line x1="355.8" y1="388.1" x2="354.4" y2="388.1" stroke="#5a5a5a" stroke-width="0.8"/>
<line x1="218.8" y1="366.8" x2="220.2" y2="366.8" stroke="#5a5a5a" stroke-width="0.8"/>
<line x1="355.8" y1="366.8" x2="354.4" y2="366.8" stroke="#5a5a5a" stroke-width="0.8"/>
<line x1="218.8" y1="345.5" x2="220.2" y2="345.5" stroke="#5a5a5a" stroke-width="0.8"/>
<line x1="355.8" y1="345.5" x2="354.4" y2="345.5" stroke="#5a5a5a" stroke-width="0.8"/>
<line x1="218.8" y1="324.2" x2="220.2" y2="324.2" stroke="#5a5a5a" stroke-width="0.8"/>
<line x1="355.8" y1="324.2" x2="354.4" y2="324.2" stroke="#5a5a5a" stroke-width="0.8"/>
<text x="227.2" y="426.6" text-anchor="middle" font-family="Liberation Sans, Arial, sans-serif" font-weight="bold" font-size="7.3" fill="#222" stroke="#222" stroke-width="0.35">-10</text>
<text x="257.3" y="426.6" text-anchor="middle" font-family="Liberation Sans, Arial, sans-serif" font-weight="bold" font-size="7.3" fill="#222" stroke="#222" stroke-width="0.35">-5</text>
<text x="287.3" y="426.6" text-anchor="middle" font-family="Liberation Sans, Arial, sans-serif" font-weight="bold" font-size="7.3" fill="#222" stroke="#222" stroke-width="0.35">0</text>
<text x="317.3" y="426.6" text-anchor="middle" font-family="Liberation Sans, Arial, sans-serif" font-weight="bold" font-size="7.3" fill="#222" stroke="#222" stroke-width="0.35">5</text>
<text x="347.4" y="426.6" text-anchor="middle" font-family="Liberation Sans, Arial, sans-serif" font-weight="bold" font-size="7.3" fill="#222" stroke="#222" stroke-width="0.35">10</text>
<text x="216.6" y="411.9" text-anchor="end" font-family="Liberation Sans, Arial, sans-serif" font-weight="bold" font-size="7.3" fill="#222" stroke="#222" stroke-width="0.35">-10</text>
<text x="216.6" y="390.6" text-anchor="end" font-family="Liberation Sans, Arial, sans-serif" font-weight="bold" font-size="7.3" fill="#222" stroke="#222" stroke-width="0.35">-5</text>
<text x="216.6" y="369.3" text-anchor="end" font-family="Liberation Sans, Arial, sans-serif" font-weight="bold" font-size="7.3" fill="#222" stroke="#222" stroke-width="0.35">0</text>
<text x="216.6" y="348.0" text-anchor="end" font-family="Liberation Sans, Arial, sans-serif" font-weight="bold" font-size="7.3" fill="#222" stroke="#222" stroke-width="0.35">5</text>
<text x="216.6" y="326.7" text-anchor="end" font-family="Liberation Sans, Arial, sans-serif" font-weight="bold" font-size="7.3" fill="#222" stroke="#222" stroke-width="0.35">10</text>
<rect x="400.2" y="316.5" width="136.6" height="100.6" fill="none" stroke="#5a5a5a" stroke-width="1.1"/>
<line x1="400.2" y1="417.1" x2="400.2" y2="415.7" stroke="#5a5a5a" stroke-width="0.8"/>
<line x1="400.2" y1="316.5" x2="400.2" y2="317.9" stroke="#5a5a5a" stroke-width="0.8"/>
<line x1="468.5" y1="417.1" x2="468.5" y2="415.7" stroke="#5a5a5a" stroke-width="0.8"/>
<line x1="468.5" y1="316.5" x2="468.5" y2="317.9" stroke="#5a5a5a" stroke-width="0.8"/>
<line x1="536.8" y1="417.1" x2="536.8" y2="415.7" stroke="#5a5a5a" stroke-width="0.8"/>
<line x1="536.8" y1="316.5" x2="536.8" y2="317.9" stroke="#5a5a5a" stroke-width="0.8"/>
<line x1="400.2" y1="417.1" x2="401.6" y2="417.1" stroke="#5a5a5a" stroke-width="0.8"/>
<line x1="536.8" y1="417.1" x2="535.4" y2="417.1" stroke="#5a5a5a" stroke-width="0.8"/>
<line x1="400.2" y1="366.8" x2="401.6" y2="366.8" stroke="#5a5a5a" stroke-width="0.8"/>
<line x1="536.8" y1="366.8" x2="535.4" y2="366.8" stroke="#5a5a5a" stroke-width="0.8"/>
<line x1="400.2" y1="316.5" x2="401.6" y2="316.5" stroke="#5a5a5a" stroke-width="0.8"/>
<line x1="536.8" y1="316.5" x2="535.4" y2="316.5" stroke="#5a5a5a" stroke-width="0.8"/>
<text x="400.2" y="426.6" text-anchor="middle" font-family="Liberation Sans, Arial, sans-serif" font-weight="bold" font-size="7.3" fill="#222" stroke="#222" stroke-width="0.35">-50</text>
<text x="468.5" y="426.6" text-anchor="middle" font-family="Liberation Sans, Arial, sans-serif" font-weight="bold" font-size="7.3" fill="#222" stroke="#222" stroke-width="0.35">0</text>
<text x="536.8" y="426.6" text-anchor="middle" font-family="Liberation Sans, Arial, sans-serif" font-weight="bold" font-size="7.3" fill="#222" stroke="#222" stroke-width="0.35">50</text>
<text x="398.0" y="419.6" text-anchor="end" font-family="Liberation Sans, Arial, sans-serif" font-weight="bold" font-size="7.3" fill="#222" stroke="#222" stroke-width="0.35">-50</text>
<text x="398.0" y="369.3" text-anchor="end" font-family="Liberation Sans, Arial, sans-serif" font-weight="bold" font-size="7.3" fill="#222" stroke="#222" stroke-width="0.35">0</text>
<text x="398.0" y="319.0" text-anchor="end" font-family="Liberation Sans, Arial, sans-serif" font-weight="bold" font-size="7.3" fill="#222" stroke="#222" stroke-width="0.35">50</text>
<path d="M49.9,276.0H174.7" stroke="#ff0000" stroke-width="1.1"/>
<path d="M49.9,276.0H174.7" stroke="#0000ff" stroke-width="1.1" stroke-dasharray="2.8,5"/>
<path d="M230.5,276.0H355.8" stroke="#ff0000" stroke-width="1.1"/>
<path d="M230.5,276.0H355.8" stroke="#0000ff" stroke-width="1.1" stroke-dasharray="2.8,5"/>
<path d="M411.9,276.0H536.8" stroke="#ff0000" stroke-width="1.1"/>
<path d="M411.9,276.0H536.8" stroke="#0000ff" stroke-width="1.1" stroke-dasharray="2.8,5"/>
<text x="107.2" y="154.9" text-anchor="middle" font-family="Liberation Sans, Arial, sans-serif" font-weight="bold" font-size="7.3" fill="#222" stroke="#222" stroke-width="0.35">Time (s)</text>
<text x="288.1" y="154.9" text-anchor="middle" font-family="Liberation Sans, Arial, sans-serif" font-weight="bold" font-size="7.3" fill="#222" stroke="#222" stroke-width="0.35">Time (s)</text>
<text x="469.3" y="154.9" text-anchor="middle" font-family="Liberation Sans, Arial, sans-serif" font-weight="bold" font-size="7.3" fill="#222" stroke="#222" stroke-width="0.35">Time (s)</text>
<text x="107.2" y="294.9" text-anchor="middle" font-family="Liberation Sans, Arial, sans-serif" font-weight="bold" font-size="7.3" fill="#222" stroke="#222" stroke-width="0.35">Freq. (Hz)</text>
<text x="288.1" y="294.9" text-anchor="middle" font-family="Liberation Sans, Arial, sans-serif" font-weight="bold" font-size="7.3" fill="#222" stroke="#222" stroke-width="0.35">Freq. (Hz)</text>
<text x="469.3" y="294.9" text-anchor="middle" font-family="Liberation Sans, Arial, sans-serif" font-weight="bold" font-size="7.3" fill="#222" stroke="#222" stroke-width="0.35">Freq. (Hz)</text>
<text x="43.0" y="29.6" font-family="Liberation Sans, Arial, sans-serif" font-weight="bold" font-size="15" fill="#000">(a)</text>
<text x="43.1" y="169.6" font-family="Liberation Sans, Arial, sans-serif" font-weight="bold" font-size="15" fill="#000">(b)</text>
<text x="38.2" y="309.6" font-family="Liberation Sans, Arial, sans-serif" font-weight="bold" font-size="15" fill="#000">(c)</text>
<text x="224.2" y="30.8" font-family="Liberation Sans, Arial, sans-serif" font-weight="bold" font-size="15" fill="#000">(d)</text>
<text x="221.5" y="170.0" font-family="Liberation Sans, Arial, sans-serif" font-weight="bold" font-size="15" fill="#000">(e)</text>
<text x="226.4" y="310.0" font-family="Liberation Sans, Arial, sans-serif" font-weight="bold" font-size="15" fill="#000">(f)</text>
<text x="399.9" y="29.0" font-family="Liberation Sans, Arial, sans-serif" font-weight="bold" font-size="15" fill="#000">(g)</text>
<text x="399.8" y="170.0" font-family="Liberation Sans, Arial, sans-serif" font-weight="bold" font-size="15" fill="#000">(h)</text>
<text x="402.0" y="311.0" font-family="Liberation Sans, Arial, sans-serif" font-weight="bold" font-size="15" fill="#000">(i)</text>
<line x1="205.1" y1="11" x2="240" y2="11" stroke="#0000ff" stroke-width="2"/>
<text x="243.2" y="14.6" font-family="Liberation Sans, Arial, sans-serif" font-weight="bold" font-size="12" fill="#000">Alpha</text>
<line x1="289" y1="11" x2="324.8" y2="11" stroke="#ff0000" stroke-width="2"/>
<text x="331.6" y="14.6" font-family="Liberation Sans, Arial, sans-serif" font-weight="bold" font-size="12" fill="#000">Beta</text>
<text transform="translate(15.5,85.0) rotate(-90)" text-anchor="middle" fill="#000"><tspan font-family="Liberation Serif, Times New Roman, serif" font-weight="bold" font-style="italic" font-size="12" dy="0" stroke="#000" stroke-width="0.3">I</tspan><tspan font-family="Liberation Serif, Times New Roman, serif" font-weight="bold" font-style="italic" font-size="10.5" dy="2.8" dx="1.5" stroke="#000" stroke-width="0.3">αβ</tspan><tspan font-family="Liberation Sans, Arial, sans-serif" font-weight="bold" font-style="normal" font-size="11.5" dy="-2.8" dx="1"> [A]</tspan></text>
<text transform="translate(205.0,80.5) rotate(-90)" text-anchor="middle" fill="#000"><tspan font-family="Liberation Serif, Times New Roman, serif" font-weight="bold" font-style="italic" font-size="12" dy="0" stroke="#000" stroke-width="0.3">V</tspan><tspan font-family="Liberation Serif, Times New Roman, serif" font-weight="bold" font-style="italic" font-size="10.5" dy="2.8" dx="0.8" stroke="#000" stroke-width="0.3">αβ</tspan><tspan font-family="Liberation Sans, Arial, sans-serif" font-weight="bold" font-style="normal" font-size="11.5" dy="-2.8"> [kV]</tspan></text>
<text transform="translate(380.5,77.2) rotate(-90)" text-anchor="middle" fill="#000"><tspan font-family="Liberation Serif, Times New Roman, serif" font-weight="bold" font-style="italic" font-size="14" dy="0" stroke="#000" stroke-width="0.3">φ</tspan><tspan font-family="Liberation Serif, Times New Roman, serif" font-weight="bold" font-style="italic" font-size="10.5" dy="2.8" dx="1.0" stroke="#000" stroke-width="0.3">αβ</tspan><tspan font-family="Liberation Sans, Arial, sans-serif" font-weight="bold" font-style="normal" font-size="11.5" dy="-2.8" dx="1"> [Wb]</tspan></text>
<text transform="translate(17.4,226.5) rotate(-90)" text-anchor="middle" fill="#000"><tspan font-family="Liberation Serif, Times New Roman, serif" font-weight="bold" font-style="italic" font-size="12.5" dy="0" stroke="#000" stroke-width="0.3">I</tspan><tspan font-family="Liberation Serif, Times New Roman, serif" font-weight="bold" font-style="italic" font-size="12.5" dy="0" dx="1.5" stroke="#000" stroke-width="0.3">/</tspan><tspan font-family="Liberation Serif, Times New Roman, serif" font-weight="bold" font-style="italic" font-size="12.5" dy="0" dx="1.5" stroke="#000" stroke-width="0.3">I</tspan><tspan font-family="Liberation Serif, Times New Roman, serif" font-weight="bold" font-style="normal" font-size="10" dy="2.8" dx="1" stroke="#000" stroke-width="0.3">0</tspan></text>
<text transform="translate(203.6,226.9) rotate(-90)" text-anchor="middle" fill="#000"><tspan font-family="Liberation Serif, Times New Roman, serif" font-weight="bold" font-style="italic" font-size="12.5" dy="0" stroke="#000" stroke-width="0.3">V</tspan><tspan font-family="Liberation Serif, Times New Roman, serif" font-weight="bold" font-style="italic" font-size="12.5" dy="0" dx="1.2" stroke="#000" stroke-width="0.3">/</tspan><tspan font-family="Liberation Serif, Times New Roman, serif" font-weight="bold" font-style="italic" font-size="12.5" dy="0" dx="1.2" stroke="#000" stroke-width="0.3">V</tspan><tspan font-family="Liberation Serif, Times New Roman, serif" font-weight="bold" font-style="normal" font-size="10" dy="2.8" dx="0.5" stroke="#000" stroke-width="0.3">0</tspan></text>
<text transform="translate(377.5,226.3) rotate(-90)" text-anchor="middle" fill="#000"><tspan font-family="Liberation Serif, Times New Roman, serif" font-weight="bold" font-style="italic" font-size="14" dy="0" stroke="#000" stroke-width="0.3">φ</tspan><tspan font-family="Liberation Serif, Times New Roman, serif" font-weight="bold" font-style="italic" font-size="13" dy="0" dx="2.2" stroke="#000" stroke-width="0.3">/</tspan><tspan font-family="Liberation Serif, Times New Roman, serif" font-weight="bold" font-style="italic" font-size="14" dy="0" dx="2.2" stroke="#000" stroke-width="0.3">φ</tspan><tspan font-family="Liberation Serif, Times New Roman, serif" font-weight="bold" font-style="normal" font-size="10" dy="2.8" dx="0.5" stroke="#000" stroke-width="0.3">0</tspan></text>
<text transform="translate(16.2,366.9) rotate(-90)" text-anchor="middle" fill="#000"><tspan font-family="Liberation Serif, Times New Roman, serif" font-weight="bold" font-style="italic" font-size="12" dy="0" stroke="#000" stroke-width="0.3">I</tspan><tspan font-family="Liberation Serif, Times New Roman, serif" font-weight="bold" font-style="italic" font-size="10.5" dy="2.8" dx="0.6" stroke="#000" stroke-width="0.3">α</tspan></text>
<text transform="translate(202.5,367.2) rotate(-90)" text-anchor="middle" fill="#000"><tspan font-family="Liberation Serif, Times New Roman, serif" font-weight="bold" font-style="italic" font-size="12" dy="0" stroke="#000" stroke-width="0.3">V</tspan><tspan font-family="Liberation Serif, Times New Roman, serif" font-weight="bold" font-style="italic" font-size="10.5" dy="2.8" dx="0.5" stroke="#000" stroke-width="0.3">α</tspan></text>
<text transform="translate(385.0,367.2) rotate(-90)" text-anchor="middle" fill="#000"><tspan font-family="Liberation Serif, Times New Roman, serif" font-weight="bold" font-style="italic" font-size="14" dy="0" stroke="#000" stroke-width="0.3">φ</tspan><tspan font-family="Liberation Serif, Times New Roman, serif" font-weight="bold" font-style="italic" font-size="10.5" dy="2.8" dx="0.5" stroke="#000" stroke-width="0.3">α</tspan></text>
<text x="108.5" y="439.2" text-anchor="middle" fill="#000"><tspan font-family="Liberation Serif, Times New Roman, serif" font-weight="bold" font-style="italic" font-size="12" dy="0" stroke="#000" stroke-width="0.3">I</tspan><tspan font-family="Liberation Serif, Times New Roman, serif" font-weight="bold" font-style="italic" font-size="10.5" dy="2.8" dx="0.8" stroke="#000" stroke-width="0.3">β</tspan></text>
<text x="289.5" y="440.6" text-anchor="middle" fill="#000"><tspan font-family="Liberation Serif, Times New Roman, serif" font-weight="bold" font-style="italic" font-size="12" dy="0" stroke="#000" stroke-width="0.3">V</tspan><tspan font-family="Liberation Serif, Times New Roman, serif" font-weight="bold" font-style="italic" font-size="10.5" dy="2.8" dx="0.5" stroke="#000" stroke-width="0.3">β</tspan></text>
<text x="470.3" y="439.2" text-anchor="middle" fill="#000"><tspan font-family="Liberation Serif, Times New Roman, serif" font-weight="bold" font-style="italic" font-size="14" dy="0" stroke="#000" stroke-width="0.3">φ</tspan><tspan font-family="Liberation Serif, Times New Roman, serif" font-weight="bold" font-style="italic" font-size="10.5" dy="2.8" dx="1.0" stroke="#000" stroke-width="0.3">β</tspan></text></svg>
</body></html>
